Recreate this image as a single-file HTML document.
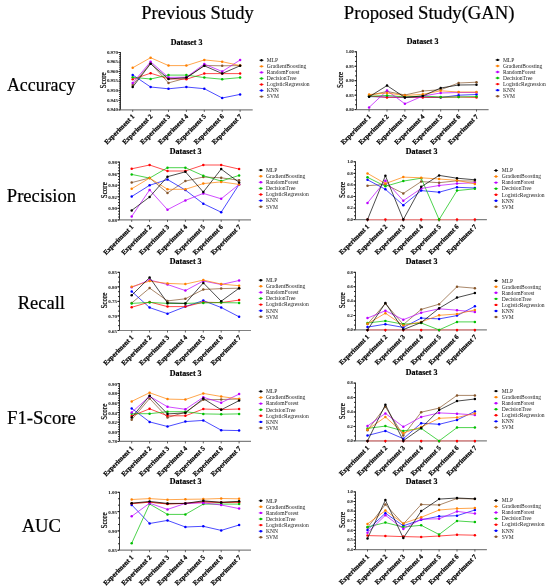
<!DOCTYPE html><html><head><meta charset="utf-8"><style>html,body{margin:0;padding:0;background:#fff;}svg{display:block;}text{font-family:'Liberation Serif',serif;}</style></head><body>
<svg width="550" height="588" viewBox="0 0 550 588">
<rect width="550" height="588" fill="#fff"/>
<text x="197.5" y="19.3" font-size="18.5" text-anchor="middle" fill="#000" stroke="#000" stroke-width="0.2">Previous Study</text>
<text x="429.2" y="19.3" font-size="18.7" text-anchor="middle" fill="#000" stroke="#000" stroke-width="0.2">Proposed Study(GAN)</text>
<text x="41.2" y="90.7" font-size="18" text-anchor="middle" textLength="68.5" lengthAdjust="spacingAndGlyphs" fill="#000" stroke="#000" stroke-width="0.2">Accuracy</text>
<text x="41.45" y="201.9" font-size="18" text-anchor="middle" textLength="69.3" lengthAdjust="spacingAndGlyphs" fill="#000" stroke="#000" stroke-width="0.2">Precision</text>
<text x="41.35" y="309.4" font-size="18" text-anchor="middle" textLength="47.3" lengthAdjust="spacingAndGlyphs" fill="#000" stroke="#000" stroke-width="0.2">Recall</text>
<text x="41.45" y="423.6" font-size="18" text-anchor="middle" textLength="69.0" lengthAdjust="spacingAndGlyphs" fill="#000" stroke="#000" stroke-width="0.2">F1-Score</text>
<text x="41.35" y="532.2" font-size="18" text-anchor="middle" textLength="39.4" lengthAdjust="spacingAndGlyphs" fill="#000" stroke="#000" stroke-width="0.2">AUC</text>
<g><text x="186.6" y="44.6" font-size="8" font-weight="bold" text-anchor="middle" fill="#000" stroke="#000" stroke-width="0.18">Dataset 3</text><text transform="translate(106.0,80.4) rotate(-90)" font-size="7.4" text-anchor="middle" textLength="16.0" lengthAdjust="spacingAndGlyphs" fill="#000" stroke="#000" stroke-width="0.2">Score</text><path d="M119.1 52.50H120.5 M119.1 54.41H120.5 M119.1 56.33H120.5 M119.1 58.24H120.5 M119.1 60.15H120.5 M119.1 62.07H120.5 M119.1 63.98H120.5 M119.1 65.89H120.5 M119.1 67.81H120.5 M119.1 69.72H120.5 M119.1 71.63H120.5 M119.1 73.55H120.5 M119.1 75.46H120.5 M119.1 77.37H120.5 M119.1 79.29H120.5 M119.1 81.20H120.5 M119.1 83.11H120.5 M119.1 85.03H120.5 M119.1 86.94H120.5 M119.1 88.85H120.5 M119.1 90.77H120.5 M119.1 92.68H120.5 M119.1 94.59H120.5 M119.1 96.51H120.5 M119.1 98.42H120.5 M119.1 100.33H120.5 M119.1 102.25H120.5 M119.1 104.16H120.5 M119.1 106.07H120.5 M119.1 107.99H120.5 M119.1 109.90H120.5" stroke="#000" stroke-width="0.9" fill="none"/><text x="117.9" y="111.10" font-size="4.9" font-weight="bold" text-anchor="end" fill="#1a1a1a" stroke="#1a1a1a" stroke-width="0.05">0.940</text><text x="117.9" y="101.53" font-size="4.9" font-weight="bold" text-anchor="end" fill="#1a1a1a" stroke="#1a1a1a" stroke-width="0.05">0.945</text><text x="117.9" y="91.97" font-size="4.9" font-weight="bold" text-anchor="end" fill="#1a1a1a" stroke="#1a1a1a" stroke-width="0.05">0.950</text><text x="117.9" y="82.40" font-size="4.9" font-weight="bold" text-anchor="end" fill="#1a1a1a" stroke="#1a1a1a" stroke-width="0.05">0.955</text><text x="117.9" y="72.83" font-size="4.9" font-weight="bold" text-anchor="end" fill="#1a1a1a" stroke="#1a1a1a" stroke-width="0.05">0.960</text><text x="117.9" y="63.27" font-size="4.9" font-weight="bold" text-anchor="end" fill="#1a1a1a" stroke="#1a1a1a" stroke-width="0.05">0.965</text><text x="117.9" y="53.70" font-size="4.9" font-weight="bold" text-anchor="end" fill="#1a1a1a" stroke="#1a1a1a" stroke-width="0.05">0.970</text><path d="M118.2 109.90H120.5 M118.2 100.33H120.5 M118.2 90.77H120.5 M118.2 81.20H120.5 M118.2 71.63H120.5 M118.2 62.07H120.5 M118.2 52.50H120.5" stroke="#111" stroke-width="0.7" fill="none"/><path d="M120.5 109.9H252.7" stroke="#808080" stroke-width="1.2" fill="none"/><path d="M120.5 52.15V109.6" stroke="#1a1a1a" stroke-width="0.85" fill="none"/><path d="M132.70 109.9v2.0 M150.60 109.9v2.0 M168.50 109.9v2.0 M186.40 109.9v2.0 M204.30 109.9v2.0 M222.20 109.9v2.0 M240.10 109.9v2.0" stroke="#222" stroke-width="0.7" fill="none"/><text transform="translate(134.90,116.90) rotate(-45)" font-size="6.8" font-weight="bold" text-anchor="end" fill="#000" stroke="#000" stroke-width="0.22">Experiment 1</text><text transform="translate(152.80,116.90) rotate(-45)" font-size="6.8" font-weight="bold" text-anchor="end" fill="#000" stroke="#000" stroke-width="0.22">Experiment 2</text><text transform="translate(170.70,116.90) rotate(-45)" font-size="6.8" font-weight="bold" text-anchor="end" fill="#000" stroke="#000" stroke-width="0.22">Experiment 3</text><text transform="translate(188.60,116.90) rotate(-45)" font-size="6.8" font-weight="bold" text-anchor="end" fill="#000" stroke="#000" stroke-width="0.22">Experiment 4</text><text transform="translate(206.50,116.90) rotate(-45)" font-size="6.8" font-weight="bold" text-anchor="end" fill="#000" stroke="#000" stroke-width="0.22">Experiment 5</text><text transform="translate(224.40,116.90) rotate(-45)" font-size="6.8" font-weight="bold" text-anchor="end" fill="#000" stroke="#000" stroke-width="0.22">Experiment 6</text><text transform="translate(242.30,116.90) rotate(-45)" font-size="6.8" font-weight="bold" text-anchor="end" fill="#000" stroke="#000" stroke-width="0.22">Experiment 7</text><polyline points="132.70,85.00 150.60,63.20 168.50,82.90 186.40,78.00 204.30,65.50 222.20,65.80 240.10,65.60" stroke="#85552a" stroke-width="0.7" fill="none"/><circle cx="132.70" cy="85.00" r="1.25" fill="#85552a"/><circle cx="150.60" cy="63.20" r="1.25" fill="#85552a"/><circle cx="168.50" cy="82.90" r="1.25" fill="#85552a"/><circle cx="186.40" cy="78.00" r="1.25" fill="#85552a"/><circle cx="204.30" cy="65.50" r="1.25" fill="#85552a"/><circle cx="222.20" cy="65.80" r="1.25" fill="#85552a"/><circle cx="240.10" cy="65.60" r="1.25" fill="#85552a"/><polyline points="132.70,74.90 150.60,87.00 168.50,88.80 186.40,87.00 204.30,88.70 222.20,98.00 240.10,94.40" stroke="#0000ff" stroke-width="0.7" fill="none"/><circle cx="132.70" cy="74.90" r="1.25" fill="#0000ff"/><circle cx="150.60" cy="87.00" r="1.25" fill="#0000ff"/><circle cx="168.50" cy="88.80" r="1.25" fill="#0000ff"/><circle cx="186.40" cy="87.00" r="1.25" fill="#0000ff"/><circle cx="204.30" cy="88.70" r="1.25" fill="#0000ff"/><circle cx="222.20" cy="98.00" r="1.25" fill="#0000ff"/><circle cx="240.10" cy="94.40" r="1.25" fill="#0000ff"/><polyline points="132.70,79.30 150.60,73.20 168.50,78.80 186.40,79.20 204.30,73.60 222.20,73.60 240.10,73.60" stroke="#ff0000" stroke-width="0.7" fill="none"/><circle cx="132.70" cy="79.30" r="1.25" fill="#ff0000"/><circle cx="150.60" cy="73.20" r="1.25" fill="#ff0000"/><circle cx="168.50" cy="78.80" r="1.25" fill="#ff0000"/><circle cx="186.40" cy="79.20" r="1.25" fill="#ff0000"/><circle cx="204.30" cy="73.60" r="1.25" fill="#ff0000"/><circle cx="222.20" cy="73.60" r="1.25" fill="#ff0000"/><circle cx="240.10" cy="73.60" r="1.25" fill="#ff0000"/><polyline points="132.70,77.30 150.60,79.00 168.50,75.10 186.40,75.10 204.30,77.60 222.20,79.20 240.10,77.60" stroke="#00c000" stroke-width="0.7" fill="none"/><circle cx="132.70" cy="77.30" r="1.25" fill="#00c000"/><circle cx="150.60" cy="79.00" r="1.25" fill="#00c000"/><circle cx="168.50" cy="75.10" r="1.25" fill="#00c000"/><circle cx="186.40" cy="75.10" r="1.25" fill="#00c000"/><circle cx="204.30" cy="77.60" r="1.25" fill="#00c000"/><circle cx="222.20" cy="79.20" r="1.25" fill="#00c000"/><circle cx="240.10" cy="77.60" r="1.25" fill="#00c000"/><polyline points="132.70,83.00 150.60,61.80 168.50,77.40 186.40,77.20 204.30,64.10 222.20,71.50 240.10,60.00" stroke="#bb00ff" stroke-width="0.7" fill="none"/><circle cx="132.70" cy="83.00" r="1.25" fill="#bb00ff"/><circle cx="150.60" cy="61.80" r="1.25" fill="#bb00ff"/><circle cx="168.50" cy="77.40" r="1.25" fill="#bb00ff"/><circle cx="186.40" cy="77.20" r="1.25" fill="#bb00ff"/><circle cx="204.30" cy="64.10" r="1.25" fill="#bb00ff"/><circle cx="222.20" cy="71.50" r="1.25" fill="#bb00ff"/><circle cx="240.10" cy="60.00" r="1.25" fill="#bb00ff"/><polyline points="132.70,67.80 150.60,57.70 168.50,65.60 186.40,65.60 204.30,59.90 222.20,61.70 240.10,65.60" stroke="#ff8000" stroke-width="0.7" fill="none"/><circle cx="132.70" cy="67.80" r="1.25" fill="#ff8000"/><circle cx="150.60" cy="57.70" r="1.25" fill="#ff8000"/><circle cx="168.50" cy="65.60" r="1.25" fill="#ff8000"/><circle cx="186.40" cy="65.60" r="1.25" fill="#ff8000"/><circle cx="204.30" cy="59.90" r="1.25" fill="#ff8000"/><circle cx="222.20" cy="61.70" r="1.25" fill="#ff8000"/><circle cx="240.10" cy="65.60" r="1.25" fill="#ff8000"/><polyline points="132.70,87.00 150.60,63.70 168.50,79.00 186.40,77.60 204.30,65.80 222.20,73.50 240.10,65.80" stroke="#000000" stroke-width="0.7" fill="none"/><circle cx="132.70" cy="87.00" r="1.25" fill="#000000"/><circle cx="150.60" cy="63.70" r="1.25" fill="#000000"/><circle cx="168.50" cy="79.00" r="1.25" fill="#000000"/><circle cx="186.40" cy="77.60" r="1.25" fill="#000000"/><circle cx="204.30" cy="65.80" r="1.25" fill="#000000"/><circle cx="222.20" cy="73.50" r="1.25" fill="#000000"/><circle cx="240.10" cy="65.80" r="1.25" fill="#000000"/><path d="M259.4 60.30h4.2" stroke="#000000" stroke-width="0.7"/><circle cx="261.5" cy="60.30" r="1.2" fill="#000000"/><text x="266.8" y="62.10" font-size="5.55" fill="#222">MLP</text><path d="M259.4 66.35h4.2" stroke="#ff8000" stroke-width="0.7"/><circle cx="261.5" cy="66.35" r="1.2" fill="#ff8000"/><text x="266.8" y="68.15" font-size="5.55" fill="#222">GradientBoosting</text><path d="M259.4 72.40h4.2" stroke="#bb00ff" stroke-width="0.7"/><circle cx="261.5" cy="72.40" r="1.2" fill="#bb00ff"/><text x="266.8" y="74.20" font-size="5.55" fill="#222">RandomForest</text><path d="M259.4 78.45h4.2" stroke="#00c000" stroke-width="0.7"/><circle cx="261.5" cy="78.45" r="1.2" fill="#00c000"/><text x="266.8" y="80.25" font-size="5.55" fill="#222">DecisionTree</text><path d="M259.4 84.50h4.2" stroke="#ff0000" stroke-width="0.7"/><circle cx="261.5" cy="84.50" r="1.2" fill="#ff0000"/><text x="266.8" y="86.30" font-size="5.55" fill="#222">LogisticRegression</text><path d="M259.4 90.55h4.2" stroke="#0000ff" stroke-width="0.7"/><circle cx="261.5" cy="90.55" r="1.2" fill="#0000ff"/><text x="266.8" y="92.35" font-size="5.55" fill="#222">KNN</text><path d="M259.4 96.60h4.2" stroke="#85552a" stroke-width="0.7"/><circle cx="261.5" cy="96.60" r="1.2" fill="#85552a"/><text x="266.8" y="98.40" font-size="5.55" fill="#222">SVM</text></g>
<g><text x="185.7" y="154.2" font-size="8" font-weight="bold" text-anchor="middle" fill="#000" stroke="#000" stroke-width="0.18">Dataset 3</text><text transform="translate(106.9,190.2) rotate(-90)" font-size="7.4" text-anchor="middle" textLength="16.0" lengthAdjust="spacingAndGlyphs" fill="#000" stroke="#000" stroke-width="0.2">Score</text><path d="M118.1 162.10H119.5 M118.1 164.99H119.5 M118.1 167.88H119.5 M118.1 170.77H119.5 M118.1 173.66H119.5 M118.1 176.55H119.5 M118.1 179.44H119.5 M118.1 182.33H119.5 M118.1 185.22H119.5 M118.1 188.11H119.5 M118.1 191.00H119.5 M118.1 193.89H119.5 M118.1 196.78H119.5 M118.1 199.67H119.5 M118.1 202.56H119.5 M118.1 205.45H119.5 M118.1 208.34H119.5 M118.1 211.23H119.5 M118.1 214.12H119.5 M118.1 217.01H119.5 M118.1 219.90H119.5" stroke="#000" stroke-width="0.9" fill="none"/><text x="116.9" y="221.90" font-size="4.9" font-weight="bold" text-anchor="end" fill="#1a1a1a" stroke="#1a1a1a" stroke-width="0.05">0.88</text><text x="116.9" y="210.34" font-size="4.9" font-weight="bold" text-anchor="end" fill="#1a1a1a" stroke="#1a1a1a" stroke-width="0.05">0.90</text><text x="116.9" y="198.78" font-size="4.9" font-weight="bold" text-anchor="end" fill="#1a1a1a" stroke="#1a1a1a" stroke-width="0.05">0.92</text><text x="116.9" y="187.22" font-size="4.9" font-weight="bold" text-anchor="end" fill="#1a1a1a" stroke="#1a1a1a" stroke-width="0.05">0.94</text><text x="116.9" y="175.66" font-size="4.9" font-weight="bold" text-anchor="end" fill="#1a1a1a" stroke="#1a1a1a" stroke-width="0.05">0.96</text><text x="116.9" y="164.10" font-size="4.9" font-weight="bold" text-anchor="end" fill="#1a1a1a" stroke="#1a1a1a" stroke-width="0.05">0.98</text><path d="M117.2 219.90H119.5 M117.2 208.34H119.5 M117.2 196.78H119.5 M117.2 185.22H119.5 M117.2 173.66H119.5 M117.2 162.10H119.5" stroke="#111" stroke-width="0.7" fill="none"/><path d="M119.5 219.9H251.0" stroke="#808080" stroke-width="1.2" fill="none"/><path d="M119.5 161.75V219.6" stroke="#1a1a1a" stroke-width="0.85" fill="none"/><path d="M131.70 219.9v2.0 M149.60 219.9v2.0 M167.50 219.9v2.0 M185.40 219.9v2.0 M203.30 219.9v2.0 M221.20 219.9v2.0 M239.10 219.9v2.0" stroke="#222" stroke-width="0.7" fill="none"/><text transform="translate(133.90,227.30) rotate(-45)" font-size="6.8" font-weight="bold" text-anchor="end" fill="#000" stroke="#000" stroke-width="0.22">Experiment 1</text><text transform="translate(151.80,227.30) rotate(-45)" font-size="6.8" font-weight="bold" text-anchor="end" fill="#000" stroke="#000" stroke-width="0.22">Experiment 2</text><text transform="translate(169.70,227.30) rotate(-45)" font-size="6.8" font-weight="bold" text-anchor="end" fill="#000" stroke="#000" stroke-width="0.22">Experiment 3</text><text transform="translate(187.60,227.30) rotate(-45)" font-size="6.8" font-weight="bold" text-anchor="end" fill="#000" stroke="#000" stroke-width="0.22">Experiment 4</text><text transform="translate(205.50,227.30) rotate(-45)" font-size="6.8" font-weight="bold" text-anchor="end" fill="#000" stroke="#000" stroke-width="0.22">Experiment 5</text><text transform="translate(223.40,227.30) rotate(-45)" font-size="6.8" font-weight="bold" text-anchor="end" fill="#000" stroke="#000" stroke-width="0.22">Experiment 6</text><text transform="translate(241.30,227.30) rotate(-45)" font-size="6.8" font-weight="bold" text-anchor="end" fill="#000" stroke="#000" stroke-width="0.22">Experiment 7</text><polyline points="131.70,182.60 149.60,178.00 167.50,192.90 185.40,181.10 203.30,177.00 221.20,177.80 239.10,180.30" stroke="#85552a" stroke-width="0.7" fill="none"/><circle cx="131.70" cy="182.60" r="1.25" fill="#85552a"/><circle cx="149.60" cy="178.00" r="1.25" fill="#85552a"/><circle cx="167.50" cy="192.90" r="1.25" fill="#85552a"/><circle cx="185.40" cy="181.10" r="1.25" fill="#85552a"/><circle cx="203.30" cy="177.00" r="1.25" fill="#85552a"/><circle cx="221.20" cy="177.80" r="1.25" fill="#85552a"/><circle cx="239.10" cy="180.30" r="1.25" fill="#85552a"/><polyline points="131.70,196.50 149.60,185.30 167.50,179.50 185.40,190.10 203.30,203.70 221.20,212.20 239.10,184.40" stroke="#0000ff" stroke-width="0.7" fill="none"/><circle cx="131.70" cy="196.50" r="1.25" fill="#0000ff"/><circle cx="149.60" cy="185.30" r="1.25" fill="#0000ff"/><circle cx="167.50" cy="179.50" r="1.25" fill="#0000ff"/><circle cx="185.40" cy="190.10" r="1.25" fill="#0000ff"/><circle cx="203.30" cy="203.70" r="1.25" fill="#0000ff"/><circle cx="221.20" cy="212.20" r="1.25" fill="#0000ff"/><circle cx="239.10" cy="184.40" r="1.25" fill="#0000ff"/><polyline points="131.70,168.80 149.60,165.00 167.50,171.00 185.40,171.00 203.30,165.00 221.20,165.00 239.10,169.10" stroke="#ff0000" stroke-width="0.7" fill="none"/><circle cx="131.70" cy="168.80" r="1.25" fill="#ff0000"/><circle cx="149.60" cy="165.00" r="1.25" fill="#ff0000"/><circle cx="167.50" cy="171.00" r="1.25" fill="#ff0000"/><circle cx="185.40" cy="171.00" r="1.25" fill="#ff0000"/><circle cx="203.30" cy="165.00" r="1.25" fill="#ff0000"/><circle cx="221.20" cy="165.00" r="1.25" fill="#ff0000"/><circle cx="239.10" cy="169.10" r="1.25" fill="#ff0000"/><polyline points="131.70,174.40 149.60,178.10 167.50,167.70 185.40,167.70 203.30,175.70 221.20,181.10 239.10,175.40" stroke="#00c000" stroke-width="0.7" fill="none"/><circle cx="131.70" cy="174.40" r="1.25" fill="#00c000"/><circle cx="149.60" cy="178.10" r="1.25" fill="#00c000"/><circle cx="167.50" cy="167.70" r="1.25" fill="#00c000"/><circle cx="185.40" cy="167.70" r="1.25" fill="#00c000"/><circle cx="203.30" cy="175.70" r="1.25" fill="#00c000"/><circle cx="221.20" cy="181.10" r="1.25" fill="#00c000"/><circle cx="239.10" cy="175.40" r="1.25" fill="#00c000"/><polyline points="131.70,216.40 149.60,189.90 167.50,209.70 185.40,200.40 203.30,193.40 221.20,198.80 239.10,184.40" stroke="#bb00ff" stroke-width="0.7" fill="none"/><circle cx="131.70" cy="216.40" r="1.25" fill="#bb00ff"/><circle cx="149.60" cy="189.90" r="1.25" fill="#bb00ff"/><circle cx="167.50" cy="209.70" r="1.25" fill="#bb00ff"/><circle cx="185.40" cy="200.40" r="1.25" fill="#bb00ff"/><circle cx="203.30" cy="193.40" r="1.25" fill="#bb00ff"/><circle cx="221.20" cy="198.80" r="1.25" fill="#bb00ff"/><circle cx="239.10" cy="184.40" r="1.25" fill="#bb00ff"/><polyline points="131.70,188.80 149.60,178.00 167.50,189.30 185.40,189.30 203.30,183.60 221.20,181.90 239.10,184.40" stroke="#ff8000" stroke-width="0.7" fill="none"/><circle cx="131.70" cy="188.80" r="1.25" fill="#ff8000"/><circle cx="149.60" cy="178.00" r="1.25" fill="#ff8000"/><circle cx="167.50" cy="189.30" r="1.25" fill="#ff8000"/><circle cx="185.40" cy="189.30" r="1.25" fill="#ff8000"/><circle cx="203.30" cy="183.60" r="1.25" fill="#ff8000"/><circle cx="221.20" cy="181.90" r="1.25" fill="#ff8000"/><circle cx="239.10" cy="184.40" r="1.25" fill="#ff8000"/><polyline points="131.70,210.40 149.60,197.00 167.50,176.70 185.40,171.80 203.30,192.00 221.20,169.10 239.10,182.40" stroke="#000000" stroke-width="0.7" fill="none"/><circle cx="131.70" cy="210.40" r="1.25" fill="#000000"/><circle cx="149.60" cy="197.00" r="1.25" fill="#000000"/><circle cx="167.50" cy="176.70" r="1.25" fill="#000000"/><circle cx="185.40" cy="171.80" r="1.25" fill="#000000"/><circle cx="203.30" cy="192.00" r="1.25" fill="#000000"/><circle cx="221.20" cy="169.10" r="1.25" fill="#000000"/><circle cx="239.10" cy="182.40" r="1.25" fill="#000000"/><path d="M258.7 170.10h4.2" stroke="#000000" stroke-width="0.7"/><circle cx="260.8" cy="170.10" r="1.2" fill="#000000"/><text x="265.9" y="171.90" font-size="5.55" fill="#222">MLP</text><path d="M258.7 176.20h4.2" stroke="#ff8000" stroke-width="0.7"/><circle cx="260.8" cy="176.20" r="1.2" fill="#ff8000"/><text x="265.9" y="178.00" font-size="5.55" fill="#222">GradientBoosting</text><path d="M258.7 182.30h4.2" stroke="#bb00ff" stroke-width="0.7"/><circle cx="260.8" cy="182.30" r="1.2" fill="#bb00ff"/><text x="265.9" y="184.10" font-size="5.55" fill="#222">RandomForest</text><path d="M258.7 188.40h4.2" stroke="#00c000" stroke-width="0.7"/><circle cx="260.8" cy="188.40" r="1.2" fill="#00c000"/><text x="265.9" y="190.20" font-size="5.55" fill="#222">DecisionTree</text><path d="M258.7 194.50h4.2" stroke="#ff0000" stroke-width="0.7"/><circle cx="260.8" cy="194.50" r="1.2" fill="#ff0000"/><text x="265.9" y="196.30" font-size="5.55" fill="#222">LogisticRegression</text><path d="M258.7 200.60h4.2" stroke="#0000ff" stroke-width="0.7"/><circle cx="260.8" cy="200.60" r="1.2" fill="#0000ff"/><text x="265.9" y="202.40" font-size="5.55" fill="#222">KNN</text><path d="M258.7 206.70h4.2" stroke="#85552a" stroke-width="0.7"/><circle cx="260.8" cy="206.70" r="1.2" fill="#85552a"/><text x="265.9" y="208.50" font-size="5.55" fill="#222">SVM</text></g>
<g><text x="185.7" y="264.4" font-size="8" font-weight="bold" text-anchor="middle" fill="#000" stroke="#000" stroke-width="0.18">Dataset 3</text><text transform="translate(106.9,300.6) rotate(-90)" font-size="7.4" text-anchor="middle" textLength="16.0" lengthAdjust="spacingAndGlyphs" fill="#000" stroke="#000" stroke-width="0.2">Score</text><path d="M118.1 272.30H119.5 M118.1 277.15H119.5 M118.1 282.00H119.5 M118.1 286.85H119.5 M118.1 291.70H119.5 M118.1 296.55H119.5 M118.1 301.40H119.5 M118.1 306.25H119.5 M118.1 311.10H119.5 M118.1 315.95H119.5 M118.1 320.80H119.5 M118.1 325.65H119.5 M118.1 330.50H119.5" stroke="#000" stroke-width="0.9" fill="none"/><text x="116.9" y="332.50" font-size="4.9" font-weight="bold" text-anchor="end" fill="#1a1a1a" stroke="#1a1a1a" stroke-width="0.05">0.65</text><text x="116.9" y="317.95" font-size="4.9" font-weight="bold" text-anchor="end" fill="#1a1a1a" stroke="#1a1a1a" stroke-width="0.05">0.70</text><text x="116.9" y="303.40" font-size="4.9" font-weight="bold" text-anchor="end" fill="#1a1a1a" stroke="#1a1a1a" stroke-width="0.05">0.75</text><text x="116.9" y="288.85" font-size="4.9" font-weight="bold" text-anchor="end" fill="#1a1a1a" stroke="#1a1a1a" stroke-width="0.05">0.80</text><text x="116.9" y="274.30" font-size="4.9" font-weight="bold" text-anchor="end" fill="#1a1a1a" stroke="#1a1a1a" stroke-width="0.05">0.85</text><path d="M117.2 330.50H119.5 M117.2 315.95H119.5 M117.2 301.40H119.5 M117.2 286.85H119.5 M117.2 272.30H119.5" stroke="#111" stroke-width="0.7" fill="none"/><path d="M119.5 330.5H251.0" stroke="#808080" stroke-width="1.2" fill="none"/><path d="M119.5 271.95V330.2" stroke="#1a1a1a" stroke-width="0.85" fill="none"/><path d="M131.70 330.5v2.0 M149.60 330.5v2.0 M167.50 330.5v2.0 M185.40 330.5v2.0 M203.30 330.5v2.0 M221.20 330.5v2.0 M239.10 330.5v2.0" stroke="#222" stroke-width="0.7" fill="none"/><text transform="translate(133.90,337.90) rotate(-45)" font-size="6.8" font-weight="bold" text-anchor="end" fill="#000" stroke="#000" stroke-width="0.22">Experiment 1</text><text transform="translate(151.80,337.90) rotate(-45)" font-size="6.8" font-weight="bold" text-anchor="end" fill="#000" stroke="#000" stroke-width="0.22">Experiment 2</text><text transform="translate(169.70,337.90) rotate(-45)" font-size="6.8" font-weight="bold" text-anchor="end" fill="#000" stroke="#000" stroke-width="0.22">Experiment 3</text><text transform="translate(187.60,337.90) rotate(-45)" font-size="6.8" font-weight="bold" text-anchor="end" fill="#000" stroke="#000" stroke-width="0.22">Experiment 4</text><text transform="translate(205.50,337.90) rotate(-45)" font-size="6.8" font-weight="bold" text-anchor="end" fill="#000" stroke="#000" stroke-width="0.22">Experiment 5</text><text transform="translate(223.40,337.90) rotate(-45)" font-size="6.8" font-weight="bold" text-anchor="end" fill="#000" stroke="#000" stroke-width="0.22">Experiment 6</text><text transform="translate(241.30,337.90) rotate(-45)" font-size="6.8" font-weight="bold" text-anchor="end" fill="#000" stroke="#000" stroke-width="0.22">Experiment 7</text><polyline points="131.70,303.00 149.60,288.10 167.50,300.90 185.40,298.80 203.30,289.50 221.20,288.60 239.10,288.20" stroke="#85552a" stroke-width="0.7" fill="none"/><circle cx="131.70" cy="303.00" r="1.25" fill="#85552a"/><circle cx="149.60" cy="288.10" r="1.25" fill="#85552a"/><circle cx="167.50" cy="300.90" r="1.25" fill="#85552a"/><circle cx="185.40" cy="298.80" r="1.25" fill="#85552a"/><circle cx="203.30" cy="289.50" r="1.25" fill="#85552a"/><circle cx="221.20" cy="288.60" r="1.25" fill="#85552a"/><circle cx="239.10" cy="288.20" r="1.25" fill="#85552a"/><polyline points="131.70,291.40 149.60,307.60 167.50,313.70 185.40,306.60 203.30,300.60 221.20,307.50 239.10,316.80" stroke="#0000ff" stroke-width="0.7" fill="none"/><circle cx="131.70" cy="291.40" r="1.25" fill="#0000ff"/><circle cx="149.60" cy="307.60" r="1.25" fill="#0000ff"/><circle cx="167.50" cy="313.70" r="1.25" fill="#0000ff"/><circle cx="185.40" cy="306.60" r="1.25" fill="#0000ff"/><circle cx="203.30" cy="300.60" r="1.25" fill="#0000ff"/><circle cx="221.20" cy="307.50" r="1.25" fill="#0000ff"/><circle cx="239.10" cy="316.80" r="1.25" fill="#0000ff"/><polyline points="131.70,307.30 149.60,302.00 167.50,306.60 185.40,306.60 203.30,302.20 221.20,302.60 239.10,300.10" stroke="#ff0000" stroke-width="0.7" fill="none"/><circle cx="131.70" cy="307.30" r="1.25" fill="#ff0000"/><circle cx="149.60" cy="302.00" r="1.25" fill="#ff0000"/><circle cx="167.50" cy="306.60" r="1.25" fill="#ff0000"/><circle cx="185.40" cy="306.60" r="1.25" fill="#ff0000"/><circle cx="203.30" cy="302.20" r="1.25" fill="#ff0000"/><circle cx="221.20" cy="302.60" r="1.25" fill="#ff0000"/><circle cx="239.10" cy="300.10" r="1.25" fill="#ff0000"/><polyline points="131.70,303.40 149.60,302.40 167.50,303.40 185.40,303.40 203.30,302.90 221.20,302.60 239.10,302.90" stroke="#00c000" stroke-width="0.7" fill="none"/><circle cx="131.70" cy="303.40" r="1.25" fill="#00c000"/><circle cx="149.60" cy="302.40" r="1.25" fill="#00c000"/><circle cx="167.50" cy="303.40" r="1.25" fill="#00c000"/><circle cx="185.40" cy="303.40" r="1.25" fill="#00c000"/><circle cx="203.30" cy="302.90" r="1.25" fill="#00c000"/><circle cx="221.20" cy="302.60" r="1.25" fill="#00c000"/><circle cx="239.10" cy="302.90" r="1.25" fill="#00c000"/><polyline points="131.70,287.30 149.60,280.00 167.50,284.50 185.40,290.60 203.30,281.00 221.20,284.50 239.10,280.50" stroke="#bb00ff" stroke-width="0.7" fill="none"/><circle cx="131.70" cy="287.30" r="1.25" fill="#bb00ff"/><circle cx="149.60" cy="280.00" r="1.25" fill="#bb00ff"/><circle cx="167.50" cy="284.50" r="1.25" fill="#bb00ff"/><circle cx="185.40" cy="290.60" r="1.25" fill="#bb00ff"/><circle cx="203.30" cy="281.00" r="1.25" fill="#bb00ff"/><circle cx="221.20" cy="284.50" r="1.25" fill="#bb00ff"/><circle cx="239.10" cy="280.50" r="1.25" fill="#bb00ff"/><polyline points="131.70,286.80 149.60,281.10 167.50,283.40 185.40,284.10 203.30,280.10 221.20,284.10 239.10,285.70" stroke="#ff8000" stroke-width="0.7" fill="none"/><circle cx="131.70" cy="286.80" r="1.25" fill="#ff8000"/><circle cx="149.60" cy="281.10" r="1.25" fill="#ff8000"/><circle cx="167.50" cy="283.40" r="1.25" fill="#ff8000"/><circle cx="185.40" cy="284.10" r="1.25" fill="#ff8000"/><circle cx="203.30" cy="280.10" r="1.25" fill="#ff8000"/><circle cx="221.20" cy="284.10" r="1.25" fill="#ff8000"/><circle cx="239.10" cy="285.70" r="1.25" fill="#ff8000"/><polyline points="131.70,295.30 149.60,277.50 167.50,302.90 185.40,303.40 203.30,282.90 221.20,301.20 239.10,288.20" stroke="#000000" stroke-width="0.7" fill="none"/><circle cx="131.70" cy="295.30" r="1.25" fill="#000000"/><circle cx="149.60" cy="277.50" r="1.25" fill="#000000"/><circle cx="167.50" cy="302.90" r="1.25" fill="#000000"/><circle cx="185.40" cy="303.40" r="1.25" fill="#000000"/><circle cx="203.30" cy="282.90" r="1.25" fill="#000000"/><circle cx="221.20" cy="301.20" r="1.25" fill="#000000"/><circle cx="239.10" cy="288.20" r="1.25" fill="#000000"/><path d="M258.7 280.20h4.2" stroke="#000000" stroke-width="0.7"/><circle cx="260.8" cy="280.20" r="1.2" fill="#000000"/><text x="265.9" y="282.00" font-size="5.55" fill="#222">MLP</text><path d="M258.7 286.30h4.2" stroke="#ff8000" stroke-width="0.7"/><circle cx="260.8" cy="286.30" r="1.2" fill="#ff8000"/><text x="265.9" y="288.10" font-size="5.55" fill="#222">GradientBoosting</text><path d="M258.7 292.40h4.2" stroke="#bb00ff" stroke-width="0.7"/><circle cx="260.8" cy="292.40" r="1.2" fill="#bb00ff"/><text x="265.9" y="294.20" font-size="5.55" fill="#222">RandomForest</text><path d="M258.7 298.50h4.2" stroke="#00c000" stroke-width="0.7"/><circle cx="260.8" cy="298.50" r="1.2" fill="#00c000"/><text x="265.9" y="300.30" font-size="5.55" fill="#222">DecisionTree</text><path d="M258.7 304.60h4.2" stroke="#ff0000" stroke-width="0.7"/><circle cx="260.8" cy="304.60" r="1.2" fill="#ff0000"/><text x="265.9" y="306.40" font-size="5.55" fill="#222">LogisticRegression</text><path d="M258.7 310.70h4.2" stroke="#0000ff" stroke-width="0.7"/><circle cx="260.8" cy="310.70" r="1.2" fill="#0000ff"/><text x="265.9" y="312.50" font-size="5.55" fill="#222">KNN</text><path d="M258.7 316.80h4.2" stroke="#85552a" stroke-width="0.7"/><circle cx="260.8" cy="316.80" r="1.2" fill="#85552a"/><text x="265.9" y="318.60" font-size="5.55" fill="#222">SVM</text></g>
<g><text x="185.7" y="375.8" font-size="8" font-weight="bold" text-anchor="middle" fill="#000" stroke="#000" stroke-width="0.18">Dataset 3</text><text transform="translate(106.9,411.7) rotate(-90)" font-size="7.4" text-anchor="middle" textLength="16.0" lengthAdjust="spacingAndGlyphs" fill="#000" stroke="#000" stroke-width="0.2">Score</text><path d="M118.1 383.70H119.5 M118.1 386.10H119.5 M118.1 388.51H119.5 M118.1 390.91H119.5 M118.1 393.32H119.5 M118.1 395.72H119.5 M118.1 398.12H119.5 M118.1 400.53H119.5 M118.1 402.93H119.5 M118.1 405.34H119.5 M118.1 407.74H119.5 M118.1 410.15H119.5 M118.1 412.55H119.5 M118.1 414.95H119.5 M118.1 417.36H119.5 M118.1 419.76H119.5 M118.1 422.17H119.5 M118.1 424.57H119.5 M118.1 426.97H119.5 M118.1 429.38H119.5 M118.1 431.78H119.5 M118.1 434.19H119.5 M118.1 436.59H119.5 M118.1 439.00H119.5 M118.1 441.40H119.5" stroke="#000" stroke-width="0.9" fill="none"/><text x="116.9" y="443.40" font-size="4.9" font-weight="bold" text-anchor="end" fill="#1a1a1a" stroke="#1a1a1a" stroke-width="0.05">0.78</text><text x="116.9" y="433.78" font-size="4.9" font-weight="bold" text-anchor="end" fill="#1a1a1a" stroke="#1a1a1a" stroke-width="0.05">0.80</text><text x="116.9" y="424.17" font-size="4.9" font-weight="bold" text-anchor="end" fill="#1a1a1a" stroke="#1a1a1a" stroke-width="0.05">0.82</text><text x="116.9" y="414.55" font-size="4.9" font-weight="bold" text-anchor="end" fill="#1a1a1a" stroke="#1a1a1a" stroke-width="0.05">0.84</text><text x="116.9" y="404.93" font-size="4.9" font-weight="bold" text-anchor="end" fill="#1a1a1a" stroke="#1a1a1a" stroke-width="0.05">0.86</text><text x="116.9" y="395.32" font-size="4.9" font-weight="bold" text-anchor="end" fill="#1a1a1a" stroke="#1a1a1a" stroke-width="0.05">0.88</text><text x="116.9" y="385.70" font-size="4.9" font-weight="bold" text-anchor="end" fill="#1a1a1a" stroke="#1a1a1a" stroke-width="0.05">0.90</text><path d="M117.2 441.40H119.5 M117.2 431.78H119.5 M117.2 422.17H119.5 M117.2 412.55H119.5 M117.2 402.93H119.5 M117.2 393.32H119.5 M117.2 383.70H119.5" stroke="#111" stroke-width="0.7" fill="none"/><path d="M119.5 441.4H251.0" stroke="#808080" stroke-width="1.2" fill="none"/><path d="M119.5 383.35V441.1" stroke="#1a1a1a" stroke-width="0.85" fill="none"/><path d="M131.70 441.4v2.0 M149.60 441.4v2.0 M167.50 441.4v2.0 M185.40 441.4v2.0 M203.30 441.4v2.0 M221.20 441.4v2.0 M239.10 441.4v2.0" stroke="#222" stroke-width="0.7" fill="none"/><text transform="translate(133.90,448.80) rotate(-45)" font-size="6.8" font-weight="bold" text-anchor="end" fill="#000" stroke="#000" stroke-width="0.22">Experiment 1</text><text transform="translate(151.80,448.80) rotate(-45)" font-size="6.8" font-weight="bold" text-anchor="end" fill="#000" stroke="#000" stroke-width="0.22">Experiment 2</text><text transform="translate(169.70,448.80) rotate(-45)" font-size="6.8" font-weight="bold" text-anchor="end" fill="#000" stroke="#000" stroke-width="0.22">Experiment 3</text><text transform="translate(187.60,448.80) rotate(-45)" font-size="6.8" font-weight="bold" text-anchor="end" fill="#000" stroke="#000" stroke-width="0.22">Experiment 4</text><text transform="translate(205.50,448.80) rotate(-45)" font-size="6.8" font-weight="bold" text-anchor="end" fill="#000" stroke="#000" stroke-width="0.22">Experiment 5</text><text transform="translate(223.40,448.80) rotate(-45)" font-size="6.8" font-weight="bold" text-anchor="end" fill="#000" stroke="#000" stroke-width="0.22">Experiment 6</text><text transform="translate(241.30,448.80) rotate(-45)" font-size="6.8" font-weight="bold" text-anchor="end" fill="#000" stroke="#000" stroke-width="0.22">Experiment 7</text><polyline points="131.70,419.70 149.60,398.50 167.50,417.50 185.40,412.20 203.30,399.80 221.20,399.50 239.10,399.00" stroke="#85552a" stroke-width="0.7" fill="none"/><circle cx="131.70" cy="419.70" r="1.25" fill="#85552a"/><circle cx="149.60" cy="398.50" r="1.25" fill="#85552a"/><circle cx="167.50" cy="417.50" r="1.25" fill="#85552a"/><circle cx="185.40" cy="412.20" r="1.25" fill="#85552a"/><circle cx="203.30" cy="399.80" r="1.25" fill="#85552a"/><circle cx="221.20" cy="399.50" r="1.25" fill="#85552a"/><circle cx="239.10" cy="399.00" r="1.25" fill="#85552a"/><polyline points="131.70,408.40 149.60,421.90 167.50,426.50 185.40,421.60 203.30,420.40 221.20,430.20 239.10,430.60" stroke="#0000ff" stroke-width="0.7" fill="none"/><circle cx="131.70" cy="408.40" r="1.25" fill="#0000ff"/><circle cx="149.60" cy="421.90" r="1.25" fill="#0000ff"/><circle cx="167.50" cy="426.50" r="1.25" fill="#0000ff"/><circle cx="185.40" cy="421.60" r="1.25" fill="#0000ff"/><circle cx="203.30" cy="420.40" r="1.25" fill="#0000ff"/><circle cx="221.20" cy="430.20" r="1.25" fill="#0000ff"/><circle cx="239.10" cy="430.60" r="1.25" fill="#0000ff"/><polyline points="131.70,416.00 149.60,408.80 167.50,415.80 185.40,415.80 203.30,409.00 221.20,409.60 239.10,409.00" stroke="#ff0000" stroke-width="0.7" fill="none"/><circle cx="131.70" cy="416.00" r="1.25" fill="#ff0000"/><circle cx="149.60" cy="408.80" r="1.25" fill="#ff0000"/><circle cx="167.50" cy="415.80" r="1.25" fill="#ff0000"/><circle cx="185.40" cy="415.80" r="1.25" fill="#ff0000"/><circle cx="203.30" cy="409.00" r="1.25" fill="#ff0000"/><circle cx="221.20" cy="409.60" r="1.25" fill="#ff0000"/><circle cx="239.10" cy="409.00" r="1.25" fill="#ff0000"/><polyline points="131.70,413.70 149.60,413.70 167.50,411.70 185.40,411.70 203.30,413.90 221.20,414.20 239.10,413.90" stroke="#00c000" stroke-width="0.7" fill="none"/><circle cx="131.70" cy="413.70" r="1.25" fill="#00c000"/><circle cx="149.60" cy="413.70" r="1.25" fill="#00c000"/><circle cx="167.50" cy="411.70" r="1.25" fill="#00c000"/><circle cx="185.40" cy="411.70" r="1.25" fill="#00c000"/><circle cx="203.30" cy="413.90" r="1.25" fill="#00c000"/><circle cx="221.20" cy="414.20" r="1.25" fill="#00c000"/><circle cx="239.10" cy="413.90" r="1.25" fill="#00c000"/><polyline points="131.70,412.40 149.60,396.30 167.50,406.80 185.40,409.30 203.30,397.30 221.20,402.70 239.10,394.10" stroke="#bb00ff" stroke-width="0.7" fill="none"/><circle cx="131.70" cy="412.40" r="1.25" fill="#bb00ff"/><circle cx="149.60" cy="396.30" r="1.25" fill="#bb00ff"/><circle cx="167.50" cy="406.80" r="1.25" fill="#bb00ff"/><circle cx="185.40" cy="409.30" r="1.25" fill="#bb00ff"/><circle cx="203.30" cy="397.30" r="1.25" fill="#bb00ff"/><circle cx="221.20" cy="402.70" r="1.25" fill="#bb00ff"/><circle cx="239.10" cy="394.10" r="1.25" fill="#bb00ff"/><polyline points="131.70,401.40 149.60,392.70 167.50,399.10 185.40,399.50 203.30,393.40 221.20,396.50 239.10,399.00" stroke="#ff8000" stroke-width="0.7" fill="none"/><circle cx="131.70" cy="401.40" r="1.25" fill="#ff8000"/><circle cx="149.60" cy="392.70" r="1.25" fill="#ff8000"/><circle cx="167.50" cy="399.10" r="1.25" fill="#ff8000"/><circle cx="185.40" cy="399.50" r="1.25" fill="#ff8000"/><circle cx="203.30" cy="393.40" r="1.25" fill="#ff8000"/><circle cx="221.20" cy="396.50" r="1.25" fill="#ff8000"/><circle cx="239.10" cy="399.00" r="1.25" fill="#ff8000"/><polyline points="131.70,417.60 149.60,395.70 167.50,413.90 185.40,412.90 203.30,398.60 221.20,409.80 239.10,400.60" stroke="#000000" stroke-width="0.7" fill="none"/><circle cx="131.70" cy="417.60" r="1.25" fill="#000000"/><circle cx="149.60" cy="395.70" r="1.25" fill="#000000"/><circle cx="167.50" cy="413.90" r="1.25" fill="#000000"/><circle cx="185.40" cy="412.90" r="1.25" fill="#000000"/><circle cx="203.30" cy="398.60" r="1.25" fill="#000000"/><circle cx="221.20" cy="409.80" r="1.25" fill="#000000"/><circle cx="239.10" cy="400.60" r="1.25" fill="#000000"/><path d="M258.7 391.40h4.2" stroke="#000000" stroke-width="0.7"/><circle cx="260.8" cy="391.40" r="1.2" fill="#000000"/><text x="265.9" y="393.20" font-size="5.55" fill="#222">MLP</text><path d="M258.7 397.50h4.2" stroke="#ff8000" stroke-width="0.7"/><circle cx="260.8" cy="397.50" r="1.2" fill="#ff8000"/><text x="265.9" y="399.30" font-size="5.55" fill="#222">GradientBoosting</text><path d="M258.7 403.60h4.2" stroke="#bb00ff" stroke-width="0.7"/><circle cx="260.8" cy="403.60" r="1.2" fill="#bb00ff"/><text x="265.9" y="405.40" font-size="5.55" fill="#222">RandomForest</text><path d="M258.7 409.70h4.2" stroke="#00c000" stroke-width="0.7"/><circle cx="260.8" cy="409.70" r="1.2" fill="#00c000"/><text x="265.9" y="411.50" font-size="5.55" fill="#222">DecisionTree</text><path d="M258.7 415.80h4.2" stroke="#ff0000" stroke-width="0.7"/><circle cx="260.8" cy="415.80" r="1.2" fill="#ff0000"/><text x="265.9" y="417.60" font-size="5.55" fill="#222">LogisticRegression</text><path d="M258.7 421.90h4.2" stroke="#0000ff" stroke-width="0.7"/><circle cx="260.8" cy="421.90" r="1.2" fill="#0000ff"/><text x="265.9" y="423.70" font-size="5.55" fill="#222">KNN</text><path d="M258.7 428.00h4.2" stroke="#85552a" stroke-width="0.7"/><circle cx="260.8" cy="428.00" r="1.2" fill="#85552a"/><text x="265.9" y="429.80" font-size="5.55" fill="#222">SVM</text></g>
<g><text x="185.7" y="484.4" font-size="8" font-weight="bold" text-anchor="middle" fill="#000" stroke="#000" stroke-width="0.18">Dataset 3</text><text transform="translate(106.9,520.5) rotate(-90)" font-size="7.4" text-anchor="middle" textLength="16.0" lengthAdjust="spacingAndGlyphs" fill="#000" stroke="#000" stroke-width="0.2">Score</text><path d="M118.1 492.30H119.5 M118.1 498.73H119.5 M118.1 505.17H119.5 M118.1 511.60H119.5 M118.1 518.03H119.5 M118.1 524.47H119.5 M118.1 530.90H119.5 M118.1 537.33H119.5 M118.1 543.77H119.5 M118.1 550.20H119.5" stroke="#000" stroke-width="0.9" fill="none"/><text x="116.9" y="552.20" font-size="4.9" font-weight="bold" text-anchor="end" fill="#1a1a1a" stroke="#1a1a1a" stroke-width="0.05">0.85</text><text x="116.9" y="532.90" font-size="4.9" font-weight="bold" text-anchor="end" fill="#1a1a1a" stroke="#1a1a1a" stroke-width="0.05">0.90</text><text x="116.9" y="513.60" font-size="4.9" font-weight="bold" text-anchor="end" fill="#1a1a1a" stroke="#1a1a1a" stroke-width="0.05">0.95</text><text x="116.9" y="494.30" font-size="4.9" font-weight="bold" text-anchor="end" fill="#1a1a1a" stroke="#1a1a1a" stroke-width="0.05">1.00</text><path d="M117.2 550.20H119.5 M117.2 530.90H119.5 M117.2 511.60H119.5 M117.2 492.30H119.5" stroke="#111" stroke-width="0.7" fill="none"/><path d="M119.5 550.2H251.0" stroke="#808080" stroke-width="1.2" fill="none"/><path d="M119.5 491.95V549.9" stroke="#1a1a1a" stroke-width="0.85" fill="none"/><path d="M131.70 550.2v2.0 M149.60 550.2v2.0 M167.50 550.2v2.0 M185.40 550.2v2.0 M203.30 550.2v2.0 M221.20 550.2v2.0 M239.10 550.2v2.0" stroke="#222" stroke-width="0.7" fill="none"/><text transform="translate(133.90,557.90) rotate(-45)" font-size="6.8" font-weight="bold" text-anchor="end" fill="#000" stroke="#000" stroke-width="0.22">Experiment 1</text><text transform="translate(151.80,557.90) rotate(-45)" font-size="6.8" font-weight="bold" text-anchor="end" fill="#000" stroke="#000" stroke-width="0.22">Experiment 2</text><text transform="translate(169.70,557.90) rotate(-45)" font-size="6.8" font-weight="bold" text-anchor="end" fill="#000" stroke="#000" stroke-width="0.22">Experiment 3</text><text transform="translate(187.60,557.90) rotate(-45)" font-size="6.8" font-weight="bold" text-anchor="end" fill="#000" stroke="#000" stroke-width="0.22">Experiment 4</text><text transform="translate(205.50,557.90) rotate(-45)" font-size="6.8" font-weight="bold" text-anchor="end" fill="#000" stroke="#000" stroke-width="0.22">Experiment 5</text><text transform="translate(223.40,557.90) rotate(-45)" font-size="6.8" font-weight="bold" text-anchor="end" fill="#000" stroke="#000" stroke-width="0.22">Experiment 6</text><text transform="translate(241.30,557.90) rotate(-45)" font-size="6.8" font-weight="bold" text-anchor="end" fill="#000" stroke="#000" stroke-width="0.22">Experiment 7</text><polyline points="131.70,503.40 149.60,502.20 167.50,503.80 185.40,503.40 203.30,501.50 221.20,502.40 239.10,501.80" stroke="#85552a" stroke-width="0.7" fill="none"/><circle cx="131.70" cy="503.40" r="1.25" fill="#85552a"/><circle cx="149.60" cy="502.20" r="1.25" fill="#85552a"/><circle cx="167.50" cy="503.80" r="1.25" fill="#85552a"/><circle cx="185.40" cy="503.40" r="1.25" fill="#85552a"/><circle cx="203.30" cy="501.50" r="1.25" fill="#85552a"/><circle cx="221.20" cy="502.40" r="1.25" fill="#85552a"/><circle cx="239.10" cy="501.80" r="1.25" fill="#85552a"/><polyline points="131.70,504.90 149.60,523.50 167.50,520.40 185.40,527.00 203.30,526.30 221.20,530.40 239.10,525.00" stroke="#0000ff" stroke-width="0.7" fill="none"/><circle cx="131.70" cy="504.90" r="1.25" fill="#0000ff"/><circle cx="149.60" cy="523.50" r="1.25" fill="#0000ff"/><circle cx="167.50" cy="520.40" r="1.25" fill="#0000ff"/><circle cx="185.40" cy="527.00" r="1.25" fill="#0000ff"/><circle cx="203.30" cy="526.30" r="1.25" fill="#0000ff"/><circle cx="221.20" cy="530.40" r="1.25" fill="#0000ff"/><circle cx="239.10" cy="525.00" r="1.25" fill="#0000ff"/><polyline points="131.70,503.60 149.60,502.20 167.50,504.00 185.40,503.40 203.30,502.10 221.20,502.40 239.10,502.40" stroke="#ff0000" stroke-width="0.7" fill="none"/><circle cx="131.70" cy="503.60" r="1.25" fill="#ff0000"/><circle cx="149.60" cy="502.20" r="1.25" fill="#ff0000"/><circle cx="167.50" cy="504.00" r="1.25" fill="#ff0000"/><circle cx="185.40" cy="503.40" r="1.25" fill="#ff0000"/><circle cx="203.30" cy="502.10" r="1.25" fill="#ff0000"/><circle cx="221.20" cy="502.40" r="1.25" fill="#ff0000"/><circle cx="239.10" cy="502.40" r="1.25" fill="#ff0000"/><polyline points="131.70,543.20 149.60,504.00 167.50,514.40 185.40,514.40 203.30,504.10 221.20,504.10 239.10,504.10" stroke="#00c000" stroke-width="0.7" fill="none"/><circle cx="131.70" cy="543.20" r="1.25" fill="#00c000"/><circle cx="149.60" cy="504.00" r="1.25" fill="#00c000"/><circle cx="167.50" cy="514.40" r="1.25" fill="#00c000"/><circle cx="185.40" cy="514.40" r="1.25" fill="#00c000"/><circle cx="203.30" cy="504.10" r="1.25" fill="#00c000"/><circle cx="221.20" cy="504.10" r="1.25" fill="#00c000"/><circle cx="239.10" cy="504.10" r="1.25" fill="#00c000"/><polyline points="131.70,516.30 149.60,503.20 167.50,509.40 185.40,503.40 203.30,502.90 221.20,505.00 239.10,508.60" stroke="#bb00ff" stroke-width="0.7" fill="none"/><circle cx="131.70" cy="516.30" r="1.25" fill="#bb00ff"/><circle cx="149.60" cy="503.20" r="1.25" fill="#bb00ff"/><circle cx="167.50" cy="509.40" r="1.25" fill="#bb00ff"/><circle cx="185.40" cy="503.40" r="1.25" fill="#bb00ff"/><circle cx="203.30" cy="502.90" r="1.25" fill="#bb00ff"/><circle cx="221.20" cy="505.00" r="1.25" fill="#bb00ff"/><circle cx="239.10" cy="508.60" r="1.25" fill="#bb00ff"/><polyline points="131.70,499.50 149.60,498.60 167.50,499.70 185.40,499.30 203.30,499.10 221.20,498.50 239.10,498.80" stroke="#ff8000" stroke-width="0.7" fill="none"/><circle cx="131.70" cy="499.50" r="1.25" fill="#ff8000"/><circle cx="149.60" cy="498.60" r="1.25" fill="#ff8000"/><circle cx="167.50" cy="499.70" r="1.25" fill="#ff8000"/><circle cx="185.40" cy="499.30" r="1.25" fill="#ff8000"/><circle cx="203.30" cy="499.10" r="1.25" fill="#ff8000"/><circle cx="221.20" cy="498.50" r="1.25" fill="#ff8000"/><circle cx="239.10" cy="498.80" r="1.25" fill="#ff8000"/><polyline points="131.70,503.20 149.60,501.40 167.50,503.40 185.40,503.40 203.30,500.80 221.20,502.40 239.10,501.30" stroke="#000000" stroke-width="0.7" fill="none"/><circle cx="131.70" cy="503.20" r="1.25" fill="#000000"/><circle cx="149.60" cy="501.40" r="1.25" fill="#000000"/><circle cx="167.50" cy="503.40" r="1.25" fill="#000000"/><circle cx="185.40" cy="503.40" r="1.25" fill="#000000"/><circle cx="203.30" cy="500.80" r="1.25" fill="#000000"/><circle cx="221.20" cy="502.40" r="1.25" fill="#000000"/><circle cx="239.10" cy="501.30" r="1.25" fill="#000000"/><path d="M258.7 500.70h4.2" stroke="#000000" stroke-width="0.7"/><circle cx="260.8" cy="500.70" r="1.2" fill="#000000"/><text x="265.9" y="502.50" font-size="5.55" fill="#222">MLP</text><path d="M258.7 506.80h4.2" stroke="#ff8000" stroke-width="0.7"/><circle cx="260.8" cy="506.80" r="1.2" fill="#ff8000"/><text x="265.9" y="508.60" font-size="5.55" fill="#222">GradientBoosting</text><path d="M258.7 512.90h4.2" stroke="#bb00ff" stroke-width="0.7"/><circle cx="260.8" cy="512.90" r="1.2" fill="#bb00ff"/><text x="265.9" y="514.70" font-size="5.55" fill="#222">RandomForest</text><path d="M258.7 519.00h4.2" stroke="#00c000" stroke-width="0.7"/><circle cx="260.8" cy="519.00" r="1.2" fill="#00c000"/><text x="265.9" y="520.80" font-size="5.55" fill="#222">DecisionTree</text><path d="M258.7 525.10h4.2" stroke="#ff0000" stroke-width="0.7"/><circle cx="260.8" cy="525.10" r="1.2" fill="#ff0000"/><text x="265.9" y="526.90" font-size="5.55" fill="#222">LogisticRegression</text><path d="M258.7 531.20h4.2" stroke="#0000ff" stroke-width="0.7"/><circle cx="260.8" cy="531.20" r="1.2" fill="#0000ff"/><text x="265.9" y="533.00" font-size="5.55" fill="#222">KNN</text><path d="M258.7 537.30h4.2" stroke="#85552a" stroke-width="0.7"/><circle cx="260.8" cy="537.30" r="1.2" fill="#85552a"/><text x="265.9" y="539.10" font-size="5.55" fill="#222">SVM</text></g>
<g><text x="422.6" y="44.2" font-size="8" font-weight="bold" text-anchor="middle" fill="#000" stroke="#000" stroke-width="0.18">Dataset 3</text><text transform="translate(342.9,79.9) rotate(-90)" font-size="7.4" text-anchor="middle" textLength="16.0" lengthAdjust="spacingAndGlyphs" fill="#000" stroke="#000" stroke-width="0.2">Score</text><path d="M355.1 51.80H356.5 M355.1 56.62H356.5 M355.1 61.43H356.5 M355.1 66.25H356.5 M355.1 71.07H356.5 M355.1 75.88H356.5 M355.1 80.70H356.5 M355.1 85.52H356.5 M355.1 90.33H356.5 M355.1 95.15H356.5 M355.1 99.97H356.5 M355.1 104.78H356.5 M355.1 109.60H356.5" stroke="#000" stroke-width="0.9" fill="none"/><text x="353.9" y="110.95" font-size="4.6" font-weight="bold" text-anchor="end" fill="#1a1a1a" stroke="#1a1a1a" stroke-width="0.05">0.80</text><text x="353.9" y="96.50" font-size="4.6" font-weight="bold" text-anchor="end" fill="#1a1a1a" stroke="#1a1a1a" stroke-width="0.05">0.85</text><text x="353.9" y="82.05" font-size="4.6" font-weight="bold" text-anchor="end" fill="#1a1a1a" stroke="#1a1a1a" stroke-width="0.05">0.90</text><text x="353.9" y="67.60" font-size="4.6" font-weight="bold" text-anchor="end" fill="#1a1a1a" stroke="#1a1a1a" stroke-width="0.05">0.95</text><text x="353.9" y="53.15" font-size="4.6" font-weight="bold" text-anchor="end" fill="#1a1a1a" stroke="#1a1a1a" stroke-width="0.05">1.00</text><path d="M354.2 109.60H356.5 M354.2 95.15H356.5 M354.2 80.70H356.5 M354.2 66.25H356.5 M354.2 51.80H356.5" stroke="#111" stroke-width="0.7" fill="none"/><path d="M356.5 109.6H488.6" stroke="#808080" stroke-width="1.2" fill="none"/><path d="M356.5 51.45V109.3" stroke="#1a1a1a" stroke-width="0.85" fill="none"/><path d="M369.10 109.6v2.0 M387.00 109.6v2.0 M404.90 109.6v2.0 M422.80 109.6v2.0 M440.70 109.6v2.0 M458.60 109.6v2.0 M476.50 109.6v2.0" stroke="#222" stroke-width="0.7" fill="none"/><text transform="translate(371.30,117.00) rotate(-45)" font-size="6.8" font-weight="bold" text-anchor="end" fill="#000" stroke="#000" stroke-width="0.22">Experiment 1</text><text transform="translate(389.20,117.00) rotate(-45)" font-size="6.8" font-weight="bold" text-anchor="end" fill="#000" stroke="#000" stroke-width="0.22">Experiment 2</text><text transform="translate(407.10,117.00) rotate(-45)" font-size="6.8" font-weight="bold" text-anchor="end" fill="#000" stroke="#000" stroke-width="0.22">Experiment 3</text><text transform="translate(425.00,117.00) rotate(-45)" font-size="6.8" font-weight="bold" text-anchor="end" fill="#000" stroke="#000" stroke-width="0.22">Experiment 4</text><text transform="translate(442.90,117.00) rotate(-45)" font-size="6.8" font-weight="bold" text-anchor="end" fill="#000" stroke="#000" stroke-width="0.22">Experiment 5</text><text transform="translate(460.80,117.00) rotate(-45)" font-size="6.8" font-weight="bold" text-anchor="end" fill="#000" stroke="#000" stroke-width="0.22">Experiment 6</text><text transform="translate(478.70,117.00) rotate(-45)" font-size="6.8" font-weight="bold" text-anchor="end" fill="#000" stroke="#000" stroke-width="0.22">Experiment 7</text><polyline points="369.10,95.50 387.00,91.40 404.90,95.00 422.80,91.00 440.70,89.70 458.60,83.00 476.50,82.20" stroke="#85552a" stroke-width="0.7" fill="none"/><circle cx="369.10" cy="95.50" r="1.25" fill="#85552a"/><circle cx="387.00" cy="91.40" r="1.25" fill="#85552a"/><circle cx="404.90" cy="95.00" r="1.25" fill="#85552a"/><circle cx="422.80" cy="91.00" r="1.25" fill="#85552a"/><circle cx="440.70" cy="89.70" r="1.25" fill="#85552a"/><circle cx="458.60" cy="83.00" r="1.25" fill="#85552a"/><circle cx="476.50" cy="82.20" r="1.25" fill="#85552a"/><polyline points="369.10,96.60 387.00,97.00 404.90,97.50 422.80,97.00 440.70,97.50 458.60,95.20 476.50,94.50" stroke="#0000ff" stroke-width="0.7" fill="none"/><circle cx="369.10" cy="96.60" r="1.25" fill="#0000ff"/><circle cx="387.00" cy="97.00" r="1.25" fill="#0000ff"/><circle cx="404.90" cy="97.50" r="1.25" fill="#0000ff"/><circle cx="422.80" cy="97.00" r="1.25" fill="#0000ff"/><circle cx="440.70" cy="97.50" r="1.25" fill="#0000ff"/><circle cx="458.60" cy="95.20" r="1.25" fill="#0000ff"/><circle cx="476.50" cy="94.50" r="1.25" fill="#0000ff"/><polyline points="369.10,96.00 387.00,97.40 404.90,97.00 422.80,97.40 440.70,97.30 458.60,97.00 476.50,97.50" stroke="#ff0000" stroke-width="0.7" fill="none"/><circle cx="369.10" cy="96.00" r="1.25" fill="#ff0000"/><circle cx="387.00" cy="97.40" r="1.25" fill="#ff0000"/><circle cx="404.90" cy="97.00" r="1.25" fill="#ff0000"/><circle cx="422.80" cy="97.40" r="1.25" fill="#ff0000"/><circle cx="440.70" cy="97.30" r="1.25" fill="#ff0000"/><circle cx="458.60" cy="97.00" r="1.25" fill="#ff0000"/><circle cx="476.50" cy="97.50" r="1.25" fill="#ff0000"/><polyline points="369.10,96.30 387.00,95.40 404.90,97.00 422.80,96.00 440.70,97.00 458.60,97.00 476.50,96.50" stroke="#00c000" stroke-width="0.7" fill="none"/><circle cx="369.10" cy="96.30" r="1.25" fill="#00c000"/><circle cx="387.00" cy="95.40" r="1.25" fill="#00c000"/><circle cx="404.90" cy="97.00" r="1.25" fill="#00c000"/><circle cx="422.80" cy="96.00" r="1.25" fill="#00c000"/><circle cx="440.70" cy="97.00" r="1.25" fill="#00c000"/><circle cx="458.60" cy="97.00" r="1.25" fill="#00c000"/><circle cx="476.50" cy="96.50" r="1.25" fill="#00c000"/><polyline points="369.10,107.40 387.00,90.60 404.90,103.80 422.80,96.00 440.70,93.00 458.60,92.50 476.50,92.50" stroke="#bb00ff" stroke-width="0.7" fill="none"/><circle cx="369.10" cy="107.40" r="1.25" fill="#bb00ff"/><circle cx="387.00" cy="90.60" r="1.25" fill="#bb00ff"/><circle cx="404.90" cy="103.80" r="1.25" fill="#bb00ff"/><circle cx="422.80" cy="96.00" r="1.25" fill="#bb00ff"/><circle cx="440.70" cy="93.00" r="1.25" fill="#bb00ff"/><circle cx="458.60" cy="92.50" r="1.25" fill="#bb00ff"/><circle cx="476.50" cy="92.50" r="1.25" fill="#bb00ff"/><polyline points="369.10,94.60 387.00,93.00 404.90,95.50 422.80,94.30 440.70,90.80 458.60,92.00 476.50,92.00" stroke="#ff8000" stroke-width="0.7" fill="none"/><circle cx="369.10" cy="94.60" r="1.25" fill="#ff8000"/><circle cx="387.00" cy="93.00" r="1.25" fill="#ff8000"/><circle cx="404.90" cy="95.50" r="1.25" fill="#ff8000"/><circle cx="422.80" cy="94.30" r="1.25" fill="#ff8000"/><circle cx="440.70" cy="90.80" r="1.25" fill="#ff8000"/><circle cx="458.60" cy="92.00" r="1.25" fill="#ff8000"/><circle cx="476.50" cy="92.00" r="1.25" fill="#ff8000"/><polyline points="369.10,96.80 387.00,85.60 404.90,97.40 422.80,96.00 440.70,88.00 458.60,85.00 476.50,84.80" stroke="#000000" stroke-width="0.7" fill="none"/><circle cx="369.10" cy="96.80" r="1.25" fill="#000000"/><circle cx="387.00" cy="85.60" r="1.25" fill="#000000"/><circle cx="404.90" cy="97.40" r="1.25" fill="#000000"/><circle cx="422.80" cy="96.00" r="1.25" fill="#000000"/><circle cx="440.70" cy="88.00" r="1.25" fill="#000000"/><circle cx="458.60" cy="85.00" r="1.25" fill="#000000"/><circle cx="476.50" cy="84.80" r="1.25" fill="#000000"/><path d="M495.5 59.90h4.2" stroke="#000000" stroke-width="0.7"/><circle cx="497.6" cy="59.90" r="1.2" fill="#000000"/><text x="502.9" y="61.70" font-size="5.55" fill="#222">MLP</text><path d="M495.5 65.95h4.2" stroke="#ff8000" stroke-width="0.7"/><circle cx="497.6" cy="65.95" r="1.2" fill="#ff8000"/><text x="502.9" y="67.75" font-size="5.55" fill="#222">GradientBoosting</text><path d="M495.5 72.00h4.2" stroke="#bb00ff" stroke-width="0.7"/><circle cx="497.6" cy="72.00" r="1.2" fill="#bb00ff"/><text x="502.9" y="73.80" font-size="5.55" fill="#222">RandomForest</text><path d="M495.5 78.05h4.2" stroke="#00c000" stroke-width="0.7"/><circle cx="497.6" cy="78.05" r="1.2" fill="#00c000"/><text x="502.9" y="79.85" font-size="5.55" fill="#222">DecisionTree</text><path d="M495.5 84.10h4.2" stroke="#ff0000" stroke-width="0.7"/><circle cx="497.6" cy="84.10" r="1.2" fill="#ff0000"/><text x="502.9" y="85.90" font-size="5.55" fill="#222">LogisticRegression</text><path d="M495.5 90.15h4.2" stroke="#0000ff" stroke-width="0.7"/><circle cx="497.6" cy="90.15" r="1.2" fill="#0000ff"/><text x="502.9" y="91.95" font-size="5.55" fill="#222">KNN</text><path d="M495.5 96.20h4.2" stroke="#85552a" stroke-width="0.7"/><circle cx="497.6" cy="96.20" r="1.2" fill="#85552a"/><text x="502.9" y="98.00" font-size="5.55" fill="#222">SVM</text></g>
<g><text x="421.6" y="153.9" font-size="8" font-weight="bold" text-anchor="middle" fill="#000" stroke="#000" stroke-width="0.18">Dataset 3</text><text transform="translate(344.9,189.9) rotate(-90)" font-size="7.4" text-anchor="middle" textLength="16.0" lengthAdjust="spacingAndGlyphs" fill="#000" stroke="#000" stroke-width="0.2">Score</text><path d="M354.1 161.80H355.5 M354.1 165.65H355.5 M354.1 169.51H355.5 M354.1 173.36H355.5 M354.1 177.21H355.5 M354.1 181.07H355.5 M354.1 184.92H355.5 M354.1 188.77H355.5 M354.1 192.63H355.5 M354.1 196.48H355.5 M354.1 200.33H355.5 M354.1 204.19H355.5 M354.1 208.04H355.5 M354.1 211.89H355.5 M354.1 215.75H355.5 M354.1 219.60H355.5" stroke="#000" stroke-width="0.9" fill="none"/><text x="352.9" y="220.95" font-size="4.6" font-weight="bold" text-anchor="end" fill="#1a1a1a" stroke="#1a1a1a" stroke-width="0.05">0.0</text><text x="352.9" y="209.39" font-size="4.6" font-weight="bold" text-anchor="end" fill="#1a1a1a" stroke="#1a1a1a" stroke-width="0.05">0.2</text><text x="352.9" y="197.83" font-size="4.6" font-weight="bold" text-anchor="end" fill="#1a1a1a" stroke="#1a1a1a" stroke-width="0.05">0.4</text><text x="352.9" y="186.27" font-size="4.6" font-weight="bold" text-anchor="end" fill="#1a1a1a" stroke="#1a1a1a" stroke-width="0.05">0.6</text><text x="352.9" y="174.71" font-size="4.6" font-weight="bold" text-anchor="end" fill="#1a1a1a" stroke="#1a1a1a" stroke-width="0.05">0.8</text><text x="352.9" y="163.15" font-size="4.6" font-weight="bold" text-anchor="end" fill="#1a1a1a" stroke="#1a1a1a" stroke-width="0.05">1.0</text><path d="M353.2 219.60H355.5 M353.2 208.04H355.5 M353.2 196.48H355.5 M353.2 184.92H355.5 M353.2 173.36H355.5 M353.2 161.80H355.5" stroke="#111" stroke-width="0.7" fill="none"/><path d="M355.5 219.6H486.9" stroke="#808080" stroke-width="1.2" fill="none"/><path d="M355.5 161.45V219.3" stroke="#1a1a1a" stroke-width="0.85" fill="none"/><path d="M367.50 219.6v2.0 M385.40 219.6v2.0 M403.30 219.6v2.0 M421.20 219.6v2.0 M439.10 219.6v2.0 M457.00 219.6v2.0 M474.90 219.6v2.0" stroke="#222" stroke-width="0.7" fill="none"/><text transform="translate(369.70,227.00) rotate(-45)" font-size="6.8" font-weight="bold" text-anchor="end" fill="#000" stroke="#000" stroke-width="0.22">Experiment 1</text><text transform="translate(387.60,227.00) rotate(-45)" font-size="6.8" font-weight="bold" text-anchor="end" fill="#000" stroke="#000" stroke-width="0.22">Experiment 2</text><text transform="translate(405.50,227.00) rotate(-45)" font-size="6.8" font-weight="bold" text-anchor="end" fill="#000" stroke="#000" stroke-width="0.22">Experiment 3</text><text transform="translate(423.40,227.00) rotate(-45)" font-size="6.8" font-weight="bold" text-anchor="end" fill="#000" stroke="#000" stroke-width="0.22">Experiment 4</text><text transform="translate(441.30,227.00) rotate(-45)" font-size="6.8" font-weight="bold" text-anchor="end" fill="#000" stroke="#000" stroke-width="0.22">Experiment 5</text><text transform="translate(459.20,227.00) rotate(-45)" font-size="6.8" font-weight="bold" text-anchor="end" fill="#000" stroke="#000" stroke-width="0.22">Experiment 6</text><text transform="translate(477.10,227.00) rotate(-45)" font-size="6.8" font-weight="bold" text-anchor="end" fill="#000" stroke="#000" stroke-width="0.22">Experiment 7</text><polyline points="367.50,185.70 385.40,184.40 403.30,193.40 421.20,181.60 439.10,182.70 457.00,180.80 474.90,181.10" stroke="#85552a" stroke-width="0.7" fill="none"/><circle cx="367.50" cy="185.70" r="1.25" fill="#85552a"/><circle cx="385.40" cy="184.40" r="1.25" fill="#85552a"/><circle cx="403.30" cy="193.40" r="1.25" fill="#85552a"/><circle cx="421.20" cy="181.60" r="1.25" fill="#85552a"/><circle cx="439.10" cy="182.70" r="1.25" fill="#85552a"/><circle cx="457.00" cy="180.80" r="1.25" fill="#85552a"/><circle cx="474.90" cy="181.10" r="1.25" fill="#85552a"/><polyline points="367.50,179.80 385.40,189.30 403.30,205.20 421.20,190.60 439.10,192.20 457.00,187.30 474.90,188.00" stroke="#0000ff" stroke-width="0.7" fill="none"/><circle cx="367.50" cy="179.80" r="1.25" fill="#0000ff"/><circle cx="385.40" cy="189.30" r="1.25" fill="#0000ff"/><circle cx="403.30" cy="205.20" r="1.25" fill="#0000ff"/><circle cx="421.20" cy="190.60" r="1.25" fill="#0000ff"/><circle cx="439.10" cy="192.20" r="1.25" fill="#0000ff"/><circle cx="457.00" cy="187.30" r="1.25" fill="#0000ff"/><circle cx="474.90" cy="188.00" r="1.25" fill="#0000ff"/><polyline points="367.50,219.60 385.40,219.60 403.30,219.60 421.20,219.60 439.10,219.60 457.00,219.60 474.90,219.60" stroke="#e98a8a" stroke-width="1.4" fill="none"/><circle cx="367.50" cy="219.60" r="1.25" fill="#ff0000"/><circle cx="385.40" cy="219.60" r="1.25" fill="#ff0000"/><circle cx="403.30" cy="219.60" r="1.25" fill="#ff0000"/><circle cx="421.20" cy="219.60" r="1.25" fill="#ff0000"/><circle cx="439.10" cy="219.60" r="1.25" fill="#ff0000"/><circle cx="457.00" cy="219.60" r="1.25" fill="#ff0000"/><circle cx="474.90" cy="219.60" r="1.25" fill="#ff0000"/><polyline points="367.50,177.30 385.40,186.30 403.30,181.10 421.20,178.20 439.10,219.60 457.00,190.60 474.90,188.80" stroke="#00c000" stroke-width="0.7" fill="none"/><circle cx="367.50" cy="177.30" r="1.25" fill="#00c000"/><circle cx="385.40" cy="186.30" r="1.25" fill="#00c000"/><circle cx="403.30" cy="181.10" r="1.25" fill="#00c000"/><circle cx="421.20" cy="178.20" r="1.25" fill="#00c000"/><circle cx="439.10" cy="219.60" r="1.25" fill="#00c000"/><circle cx="457.00" cy="190.60" r="1.25" fill="#00c000"/><circle cx="474.90" cy="188.80" r="1.25" fill="#00c000"/><polyline points="367.50,202.90 385.40,180.80 403.30,200.70 421.20,188.50 439.10,185.50 457.00,183.60 474.90,182.70" stroke="#bb00ff" stroke-width="0.7" fill="none"/><circle cx="367.50" cy="202.90" r="1.25" fill="#bb00ff"/><circle cx="385.40" cy="180.80" r="1.25" fill="#bb00ff"/><circle cx="403.30" cy="200.70" r="1.25" fill="#bb00ff"/><circle cx="421.20" cy="188.50" r="1.25" fill="#bb00ff"/><circle cx="439.10" cy="185.50" r="1.25" fill="#bb00ff"/><circle cx="457.00" cy="183.60" r="1.25" fill="#bb00ff"/><circle cx="474.90" cy="182.70" r="1.25" fill="#bb00ff"/><polyline points="367.50,173.40 385.40,183.60 403.30,177.10 421.20,177.80 439.10,179.00 457.00,180.30 474.90,183.90" stroke="#ff8000" stroke-width="0.7" fill="none"/><circle cx="367.50" cy="173.40" r="1.25" fill="#ff8000"/><circle cx="385.40" cy="183.60" r="1.25" fill="#ff8000"/><circle cx="403.30" cy="177.10" r="1.25" fill="#ff8000"/><circle cx="421.20" cy="177.80" r="1.25" fill="#ff8000"/><circle cx="439.10" cy="179.00" r="1.25" fill="#ff8000"/><circle cx="457.00" cy="180.30" r="1.25" fill="#ff8000"/><circle cx="474.90" cy="183.90" r="1.25" fill="#ff8000"/><polyline points="367.50,219.60 385.40,175.70 403.30,219.60 421.20,186.80 439.10,175.40 457.00,178.20 474.90,179.80" stroke="#000000" stroke-width="0.7" fill="none"/><circle cx="367.50" cy="219.60" r="1.25" fill="#000000"/><circle cx="385.40" cy="175.70" r="1.25" fill="#000000"/><circle cx="403.30" cy="219.60" r="1.25" fill="#000000"/><circle cx="421.20" cy="186.80" r="1.25" fill="#000000"/><circle cx="439.10" cy="175.40" r="1.25" fill="#000000"/><circle cx="457.00" cy="178.20" r="1.25" fill="#000000"/><circle cx="474.90" cy="179.80" r="1.25" fill="#000000"/><path d="M493.9 170.50h4.2" stroke="#000000" stroke-width="0.7"/><circle cx="496.0" cy="170.50" r="1.2" fill="#000000"/><text x="501.7" y="172.30" font-size="5.55" fill="#222">MLP</text><path d="M493.9 176.55h4.2" stroke="#ff8000" stroke-width="0.7"/><circle cx="496.0" cy="176.55" r="1.2" fill="#ff8000"/><text x="501.7" y="178.35" font-size="5.55" fill="#222">GradientBoosting</text><path d="M493.9 182.60h4.2" stroke="#bb00ff" stroke-width="0.7"/><circle cx="496.0" cy="182.60" r="1.2" fill="#bb00ff"/><text x="501.7" y="184.40" font-size="5.55" fill="#222">RandomForest</text><path d="M493.9 188.65h4.2" stroke="#00c000" stroke-width="0.7"/><circle cx="496.0" cy="188.65" r="1.2" fill="#00c000"/><text x="501.7" y="190.45" font-size="5.55" fill="#222">DecisionTree</text><path d="M493.9 194.70h4.2" stroke="#ff0000" stroke-width="0.7"/><circle cx="496.0" cy="194.70" r="1.2" fill="#ff0000"/><text x="501.7" y="196.50" font-size="5.55" fill="#222">LogisticRegression</text><path d="M493.9 200.75h4.2" stroke="#0000ff" stroke-width="0.7"/><circle cx="496.0" cy="200.75" r="1.2" fill="#0000ff"/><text x="501.7" y="202.55" font-size="5.55" fill="#222">KNN</text><path d="M493.9 206.80h4.2" stroke="#85552a" stroke-width="0.7"/><circle cx="496.0" cy="206.80" r="1.2" fill="#85552a"/><text x="501.7" y="208.60" font-size="5.55" fill="#222">SVM</text></g>
<g><text x="421.6" y="264.4" font-size="8" font-weight="bold" text-anchor="middle" fill="#000" stroke="#000" stroke-width="0.18">Dataset 3</text><text transform="translate(344.9,300.3) rotate(-90)" font-size="7.4" text-anchor="middle" textLength="16.0" lengthAdjust="spacingAndGlyphs" fill="#000" stroke="#000" stroke-width="0.2">Score</text><path d="M354.1 272.30H355.5 M354.1 277.10H355.5 M354.1 281.90H355.5 M354.1 286.70H355.5 M354.1 291.50H355.5 M354.1 296.30H355.5 M354.1 301.10H355.5 M354.1 305.90H355.5 M354.1 310.70H355.5 M354.1 315.50H355.5 M354.1 320.30H355.5 M354.1 325.10H355.5 M354.1 329.90H355.5" stroke="#000" stroke-width="0.9" fill="none"/><text x="352.9" y="331.25" font-size="4.6" font-weight="bold" text-anchor="end" fill="#1a1a1a" stroke="#1a1a1a" stroke-width="0.05">0.0</text><text x="352.9" y="316.85" font-size="4.6" font-weight="bold" text-anchor="end" fill="#1a1a1a" stroke="#1a1a1a" stroke-width="0.05">0.2</text><text x="352.9" y="302.45" font-size="4.6" font-weight="bold" text-anchor="end" fill="#1a1a1a" stroke="#1a1a1a" stroke-width="0.05">0.4</text><text x="352.9" y="288.05" font-size="4.6" font-weight="bold" text-anchor="end" fill="#1a1a1a" stroke="#1a1a1a" stroke-width="0.05">0.6</text><text x="352.9" y="273.65" font-size="4.6" font-weight="bold" text-anchor="end" fill="#1a1a1a" stroke="#1a1a1a" stroke-width="0.05">0.8</text><path d="M353.2 329.90H355.5 M353.2 315.50H355.5 M353.2 301.10H355.5 M353.2 286.70H355.5 M353.2 272.30H355.5" stroke="#111" stroke-width="0.7" fill="none"/><path d="M355.5 329.9H486.9" stroke="#808080" stroke-width="1.2" fill="none"/><path d="M355.5 271.95V329.6" stroke="#1a1a1a" stroke-width="0.85" fill="none"/><path d="M367.50 329.9v2.0 M385.40 329.9v2.0 M403.30 329.9v2.0 M421.20 329.9v2.0 M439.10 329.9v2.0 M457.00 329.9v2.0 M474.90 329.9v2.0" stroke="#222" stroke-width="0.7" fill="none"/><text transform="translate(369.70,337.30) rotate(-45)" font-size="6.8" font-weight="bold" text-anchor="end" fill="#000" stroke="#000" stroke-width="0.22">Experiment 1</text><text transform="translate(387.60,337.30) rotate(-45)" font-size="6.8" font-weight="bold" text-anchor="end" fill="#000" stroke="#000" stroke-width="0.22">Experiment 2</text><text transform="translate(405.50,337.30) rotate(-45)" font-size="6.8" font-weight="bold" text-anchor="end" fill="#000" stroke="#000" stroke-width="0.22">Experiment 3</text><text transform="translate(423.40,337.30) rotate(-45)" font-size="6.8" font-weight="bold" text-anchor="end" fill="#000" stroke="#000" stroke-width="0.22">Experiment 4</text><text transform="translate(441.30,337.30) rotate(-45)" font-size="6.8" font-weight="bold" text-anchor="end" fill="#000" stroke="#000" stroke-width="0.22">Experiment 5</text><text transform="translate(459.20,337.30) rotate(-45)" font-size="6.8" font-weight="bold" text-anchor="end" fill="#000" stroke="#000" stroke-width="0.22">Experiment 6</text><text transform="translate(477.10,337.30) rotate(-45)" font-size="6.8" font-weight="bold" text-anchor="end" fill="#000" stroke="#000" stroke-width="0.22">Experiment 7</text><polyline points="367.50,324.00 385.40,303.50 403.30,324.60 421.20,309.40 439.10,304.20 457.00,286.70 474.90,288.20" stroke="#85552a" stroke-width="0.7" fill="none"/><circle cx="367.50" cy="324.00" r="1.25" fill="#85552a"/><circle cx="385.40" cy="303.50" r="1.25" fill="#85552a"/><circle cx="403.30" cy="324.60" r="1.25" fill="#85552a"/><circle cx="421.20" cy="309.40" r="1.25" fill="#85552a"/><circle cx="439.10" cy="304.20" r="1.25" fill="#85552a"/><circle cx="457.00" cy="286.70" r="1.25" fill="#85552a"/><circle cx="474.90" cy="288.20" r="1.25" fill="#85552a"/><polyline points="367.50,327.10 385.40,324.20 403.30,327.40 421.20,318.10 439.10,318.90 457.00,315.60 474.90,306.30" stroke="#0000ff" stroke-width="0.7" fill="none"/><circle cx="367.50" cy="327.10" r="1.25" fill="#0000ff"/><circle cx="385.40" cy="324.20" r="1.25" fill="#0000ff"/><circle cx="403.30" cy="327.40" r="1.25" fill="#0000ff"/><circle cx="421.20" cy="318.10" r="1.25" fill="#0000ff"/><circle cx="439.10" cy="318.90" r="1.25" fill="#0000ff"/><circle cx="457.00" cy="315.60" r="1.25" fill="#0000ff"/><circle cx="474.90" cy="306.30" r="1.25" fill="#0000ff"/><polyline points="367.50,329.90 385.40,329.90 403.30,329.90 421.20,329.90 439.10,329.90 457.00,329.90 474.90,329.90" stroke="#e98a8a" stroke-width="1.4" fill="none"/><circle cx="367.50" cy="329.90" r="1.25" fill="#ff0000"/><circle cx="385.40" cy="329.90" r="1.25" fill="#ff0000"/><circle cx="403.30" cy="329.90" r="1.25" fill="#ff0000"/><circle cx="421.20" cy="329.90" r="1.25" fill="#ff0000"/><circle cx="439.10" cy="329.90" r="1.25" fill="#ff0000"/><circle cx="457.00" cy="329.90" r="1.25" fill="#ff0000"/><circle cx="474.90" cy="329.90" r="1.25" fill="#ff0000"/><polyline points="367.50,323.00 385.40,320.90 403.30,324.20 421.20,323.00 439.10,329.90 457.00,321.90 474.90,321.90" stroke="#00c000" stroke-width="0.7" fill="none"/><circle cx="367.50" cy="323.00" r="1.25" fill="#00c000"/><circle cx="385.40" cy="320.90" r="1.25" fill="#00c000"/><circle cx="403.30" cy="324.20" r="1.25" fill="#00c000"/><circle cx="421.20" cy="323.00" r="1.25" fill="#00c000"/><circle cx="439.10" cy="329.90" r="1.25" fill="#00c000"/><circle cx="457.00" cy="321.90" r="1.25" fill="#00c000"/><circle cx="474.90" cy="321.90" r="1.25" fill="#00c000"/><polyline points="367.50,318.10 385.40,310.70 403.30,319.70 421.20,312.70 439.10,308.80 457.00,310.20 474.90,312.00" stroke="#bb00ff" stroke-width="0.7" fill="none"/><circle cx="367.50" cy="318.10" r="1.25" fill="#bb00ff"/><circle cx="385.40" cy="310.70" r="1.25" fill="#bb00ff"/><circle cx="403.30" cy="319.70" r="1.25" fill="#bb00ff"/><circle cx="421.20" cy="312.70" r="1.25" fill="#bb00ff"/><circle cx="439.10" cy="308.80" r="1.25" fill="#bb00ff"/><circle cx="457.00" cy="310.20" r="1.25" fill="#bb00ff"/><circle cx="474.90" cy="312.00" r="1.25" fill="#bb00ff"/><polyline points="367.50,323.80 385.40,313.20 403.30,325.50 421.20,321.90 439.10,315.30 457.00,314.00 474.90,309.90" stroke="#ff8000" stroke-width="0.7" fill="none"/><circle cx="367.50" cy="323.80" r="1.25" fill="#ff8000"/><circle cx="385.40" cy="313.20" r="1.25" fill="#ff8000"/><circle cx="403.30" cy="325.50" r="1.25" fill="#ff8000"/><circle cx="421.20" cy="321.90" r="1.25" fill="#ff8000"/><circle cx="439.10" cy="315.30" r="1.25" fill="#ff8000"/><circle cx="457.00" cy="314.00" r="1.25" fill="#ff8000"/><circle cx="474.90" cy="309.90" r="1.25" fill="#ff8000"/><polyline points="367.50,329.90 385.40,303.00 403.30,329.60 421.20,322.50 439.10,308.30 457.00,297.60 474.90,293.10" stroke="#000000" stroke-width="0.7" fill="none"/><circle cx="367.50" cy="329.90" r="1.25" fill="#000000"/><circle cx="385.40" cy="303.00" r="1.25" fill="#000000"/><circle cx="403.30" cy="329.60" r="1.25" fill="#000000"/><circle cx="421.20" cy="322.50" r="1.25" fill="#000000"/><circle cx="439.10" cy="308.30" r="1.25" fill="#000000"/><circle cx="457.00" cy="297.60" r="1.25" fill="#000000"/><circle cx="474.90" cy="293.10" r="1.25" fill="#000000"/><path d="M493.9 280.70h4.2" stroke="#000000" stroke-width="0.7"/><circle cx="496.0" cy="280.70" r="1.2" fill="#000000"/><text x="501.7" y="282.50" font-size="5.55" fill="#222">MLP</text><path d="M493.9 286.75h4.2" stroke="#ff8000" stroke-width="0.7"/><circle cx="496.0" cy="286.75" r="1.2" fill="#ff8000"/><text x="501.7" y="288.55" font-size="5.55" fill="#222">GradientBoosting</text><path d="M493.9 292.80h4.2" stroke="#bb00ff" stroke-width="0.7"/><circle cx="496.0" cy="292.80" r="1.2" fill="#bb00ff"/><text x="501.7" y="294.60" font-size="5.55" fill="#222">RandomForest</text><path d="M493.9 298.85h4.2" stroke="#00c000" stroke-width="0.7"/><circle cx="496.0" cy="298.85" r="1.2" fill="#00c000"/><text x="501.7" y="300.65" font-size="5.55" fill="#222">DecisionTree</text><path d="M493.9 304.90h4.2" stroke="#ff0000" stroke-width="0.7"/><circle cx="496.0" cy="304.90" r="1.2" fill="#ff0000"/><text x="501.7" y="306.70" font-size="5.55" fill="#222">LogisticRegression</text><path d="M493.9 310.95h4.2" stroke="#0000ff" stroke-width="0.7"/><circle cx="496.0" cy="310.95" r="1.2" fill="#0000ff"/><text x="501.7" y="312.75" font-size="5.55" fill="#222">KNN</text><path d="M493.9 317.00h4.2" stroke="#85552a" stroke-width="0.7"/><circle cx="496.0" cy="317.00" r="1.2" fill="#85552a"/><text x="501.7" y="318.80" font-size="5.55" fill="#222">SVM</text></g>
<g><text x="421.6" y="375.2" font-size="8" font-weight="bold" text-anchor="middle" fill="#000" stroke="#000" stroke-width="0.18">Dataset 3</text><text transform="translate(344.9,411.2) rotate(-90)" font-size="7.4" text-anchor="middle" textLength="16.0" lengthAdjust="spacingAndGlyphs" fill="#000" stroke="#000" stroke-width="0.2">Score</text><path d="M354.1 383.10H355.5 M354.1 387.92H355.5 M354.1 392.73H355.5 M354.1 397.55H355.5 M354.1 402.37H355.5 M354.1 407.18H355.5 M354.1 412.00H355.5 M354.1 416.82H355.5 M354.1 421.63H355.5 M354.1 426.45H355.5 M354.1 431.27H355.5 M354.1 436.08H355.5 M354.1 440.90H355.5" stroke="#000" stroke-width="0.9" fill="none"/><text x="352.9" y="442.25" font-size="4.6" font-weight="bold" text-anchor="end" fill="#1a1a1a" stroke="#1a1a1a" stroke-width="0.05">0.0</text><text x="352.9" y="427.80" font-size="4.6" font-weight="bold" text-anchor="end" fill="#1a1a1a" stroke="#1a1a1a" stroke-width="0.05">0.2</text><text x="352.9" y="413.35" font-size="4.6" font-weight="bold" text-anchor="end" fill="#1a1a1a" stroke="#1a1a1a" stroke-width="0.05">0.4</text><text x="352.9" y="398.90" font-size="4.6" font-weight="bold" text-anchor="end" fill="#1a1a1a" stroke="#1a1a1a" stroke-width="0.05">0.6</text><text x="352.9" y="384.45" font-size="4.6" font-weight="bold" text-anchor="end" fill="#1a1a1a" stroke="#1a1a1a" stroke-width="0.05">0.8</text><path d="M353.2 440.90H355.5 M353.2 426.45H355.5 M353.2 412.00H355.5 M353.2 397.55H355.5 M353.2 383.10H355.5" stroke="#111" stroke-width="0.7" fill="none"/><path d="M355.5 440.9H486.9" stroke="#808080" stroke-width="1.2" fill="none"/><path d="M355.5 382.75V440.6" stroke="#1a1a1a" stroke-width="0.85" fill="none"/><path d="M367.50 440.9v2.0 M385.40 440.9v2.0 M403.30 440.9v2.0 M421.20 440.9v2.0 M439.10 440.9v2.0 M457.00 440.9v2.0 M474.90 440.9v2.0" stroke="#222" stroke-width="0.7" fill="none"/><text transform="translate(369.70,448.30) rotate(-45)" font-size="6.8" font-weight="bold" text-anchor="end" fill="#000" stroke="#000" stroke-width="0.22">Experiment 1</text><text transform="translate(387.60,448.30) rotate(-45)" font-size="6.8" font-weight="bold" text-anchor="end" fill="#000" stroke="#000" stroke-width="0.22">Experiment 2</text><text transform="translate(405.50,448.30) rotate(-45)" font-size="6.8" font-weight="bold" text-anchor="end" fill="#000" stroke="#000" stroke-width="0.22">Experiment 3</text><text transform="translate(423.40,448.30) rotate(-45)" font-size="6.8" font-weight="bold" text-anchor="end" fill="#000" stroke="#000" stroke-width="0.22">Experiment 4</text><text transform="translate(441.30,448.30) rotate(-45)" font-size="6.8" font-weight="bold" text-anchor="end" fill="#000" stroke="#000" stroke-width="0.22">Experiment 5</text><text transform="translate(459.20,448.30) rotate(-45)" font-size="6.8" font-weight="bold" text-anchor="end" fill="#000" stroke="#000" stroke-width="0.22">Experiment 6</text><text transform="translate(477.10,448.30) rotate(-45)" font-size="6.8" font-weight="bold" text-anchor="end" fill="#000" stroke="#000" stroke-width="0.22">Experiment 7</text><polyline points="367.50,430.20 385.40,406.80 403.30,435.50 421.20,412.20 439.10,408.10 457.00,395.40 474.90,395.40" stroke="#85552a" stroke-width="0.7" fill="none"/><circle cx="367.50" cy="430.20" r="1.25" fill="#85552a"/><circle cx="385.40" cy="406.80" r="1.25" fill="#85552a"/><circle cx="403.30" cy="435.50" r="1.25" fill="#85552a"/><circle cx="421.20" cy="412.20" r="1.25" fill="#85552a"/><circle cx="439.10" cy="408.10" r="1.25" fill="#85552a"/><circle cx="457.00" cy="395.40" r="1.25" fill="#85552a"/><circle cx="474.90" cy="395.40" r="1.25" fill="#85552a"/><polyline points="367.50,435.50 385.40,430.90 403.30,438.70 421.20,423.20 439.10,424.30 457.00,419.90 474.90,411.40" stroke="#0000ff" stroke-width="0.7" fill="none"/><circle cx="367.50" cy="435.50" r="1.25" fill="#0000ff"/><circle cx="385.40" cy="430.90" r="1.25" fill="#0000ff"/><circle cx="403.30" cy="438.70" r="1.25" fill="#0000ff"/><circle cx="421.20" cy="423.20" r="1.25" fill="#0000ff"/><circle cx="439.10" cy="424.30" r="1.25" fill="#0000ff"/><circle cx="457.00" cy="419.90" r="1.25" fill="#0000ff"/><circle cx="474.90" cy="411.40" r="1.25" fill="#0000ff"/><polyline points="367.50,440.90 385.40,440.90 403.30,440.90 421.20,440.90 439.10,440.90 457.00,440.90 474.90,440.90" stroke="#e98a8a" stroke-width="1.4" fill="none"/><circle cx="367.50" cy="440.90" r="1.25" fill="#ff0000"/><circle cx="385.40" cy="440.90" r="1.25" fill="#ff0000"/><circle cx="403.30" cy="440.90" r="1.25" fill="#ff0000"/><circle cx="421.20" cy="440.90" r="1.25" fill="#ff0000"/><circle cx="439.10" cy="440.90" r="1.25" fill="#ff0000"/><circle cx="457.00" cy="440.90" r="1.25" fill="#ff0000"/><circle cx="474.90" cy="440.90" r="1.25" fill="#ff0000"/><polyline points="367.50,428.40 385.40,426.10 403.30,430.90 421.20,428.40 439.10,440.90 457.00,427.60 474.90,427.60" stroke="#00c000" stroke-width="0.7" fill="none"/><circle cx="367.50" cy="428.40" r="1.25" fill="#00c000"/><circle cx="385.40" cy="426.10" r="1.25" fill="#00c000"/><circle cx="403.30" cy="430.90" r="1.25" fill="#00c000"/><circle cx="421.20" cy="428.40" r="1.25" fill="#00c000"/><circle cx="439.10" cy="440.90" r="1.25" fill="#00c000"/><circle cx="457.00" cy="427.60" r="1.25" fill="#00c000"/><circle cx="474.90" cy="427.60" r="1.25" fill="#00c000"/><polyline points="367.50,426.00 385.40,413.40 403.30,426.80 421.20,417.00 439.10,412.90 457.00,413.70 474.90,415.00" stroke="#bb00ff" stroke-width="0.7" fill="none"/><circle cx="367.50" cy="426.00" r="1.25" fill="#bb00ff"/><circle cx="385.40" cy="413.40" r="1.25" fill="#bb00ff"/><circle cx="403.30" cy="426.80" r="1.25" fill="#bb00ff"/><circle cx="421.20" cy="417.00" r="1.25" fill="#bb00ff"/><circle cx="439.10" cy="412.90" r="1.25" fill="#bb00ff"/><circle cx="457.00" cy="413.70" r="1.25" fill="#bb00ff"/><circle cx="474.90" cy="415.00" r="1.25" fill="#bb00ff"/><polyline points="367.50,429.70 385.40,417.00 403.30,433.00 421.20,427.00 439.10,418.30 457.00,417.50 474.90,413.40" stroke="#ff8000" stroke-width="0.7" fill="none"/><circle cx="367.50" cy="429.70" r="1.25" fill="#ff8000"/><circle cx="385.40" cy="417.00" r="1.25" fill="#ff8000"/><circle cx="403.30" cy="433.00" r="1.25" fill="#ff8000"/><circle cx="421.20" cy="427.00" r="1.25" fill="#ff8000"/><circle cx="439.10" cy="418.30" r="1.25" fill="#ff8000"/><circle cx="457.00" cy="417.50" r="1.25" fill="#ff8000"/><circle cx="474.90" cy="413.40" r="1.25" fill="#ff8000"/><polyline points="367.50,440.90 385.40,404.70 403.30,440.70 421.20,428.10 439.10,410.10 457.00,401.10 474.90,399.00" stroke="#000000" stroke-width="0.7" fill="none"/><circle cx="367.50" cy="440.90" r="1.25" fill="#000000"/><circle cx="385.40" cy="404.70" r="1.25" fill="#000000"/><circle cx="403.30" cy="440.70" r="1.25" fill="#000000"/><circle cx="421.20" cy="428.10" r="1.25" fill="#000000"/><circle cx="439.10" cy="410.10" r="1.25" fill="#000000"/><circle cx="457.00" cy="401.10" r="1.25" fill="#000000"/><circle cx="474.90" cy="399.00" r="1.25" fill="#000000"/><path d="M493.9 391.10h4.2" stroke="#000000" stroke-width="0.7"/><circle cx="496.0" cy="391.10" r="1.2" fill="#000000"/><text x="501.7" y="392.90" font-size="5.55" fill="#222">MLP</text><path d="M493.9 397.15h4.2" stroke="#ff8000" stroke-width="0.7"/><circle cx="496.0" cy="397.15" r="1.2" fill="#ff8000"/><text x="501.7" y="398.95" font-size="5.55" fill="#222">GradientBoosting</text><path d="M493.9 403.20h4.2" stroke="#bb00ff" stroke-width="0.7"/><circle cx="496.0" cy="403.20" r="1.2" fill="#bb00ff"/><text x="501.7" y="405.00" font-size="5.55" fill="#222">RandomForest</text><path d="M493.9 409.25h4.2" stroke="#00c000" stroke-width="0.7"/><circle cx="496.0" cy="409.25" r="1.2" fill="#00c000"/><text x="501.7" y="411.05" font-size="5.55" fill="#222">DecisionTree</text><path d="M493.9 415.30h4.2" stroke="#ff0000" stroke-width="0.7"/><circle cx="496.0" cy="415.30" r="1.2" fill="#ff0000"/><text x="501.7" y="417.10" font-size="5.55" fill="#222">LogisticRegression</text><path d="M493.9 421.35h4.2" stroke="#0000ff" stroke-width="0.7"/><circle cx="496.0" cy="421.35" r="1.2" fill="#0000ff"/><text x="501.7" y="423.15" font-size="5.55" fill="#222">KNN</text><path d="M493.9 427.40h4.2" stroke="#85552a" stroke-width="0.7"/><circle cx="496.0" cy="427.40" r="1.2" fill="#85552a"/><text x="501.7" y="429.20" font-size="5.55" fill="#222">SVM</text></g>
<g><text x="421.6" y="484.0" font-size="8" font-weight="bold" text-anchor="middle" fill="#000" stroke="#000" stroke-width="0.18">Dataset 3</text><text transform="translate(344.9,520.0) rotate(-90)" font-size="7.4" text-anchor="middle" textLength="16.0" lengthAdjust="spacingAndGlyphs" fill="#000" stroke="#000" stroke-width="0.2">Score</text><path d="M354.1 491.90H355.5 M354.1 495.11H355.5 M354.1 498.31H355.5 M354.1 501.52H355.5 M354.1 504.72H355.5 M354.1 507.93H355.5 M354.1 511.13H355.5 M354.1 514.34H355.5 M354.1 517.54H355.5 M354.1 520.75H355.5 M354.1 523.96H355.5 M354.1 527.16H355.5 M354.1 530.37H355.5 M354.1 533.57H355.5 M354.1 536.78H355.5 M354.1 539.98H355.5 M354.1 543.19H355.5 M354.1 546.39H355.5 M354.1 549.60H355.5" stroke="#000" stroke-width="0.9" fill="none"/><text x="352.9" y="550.95" font-size="4.6" font-weight="bold" text-anchor="end" fill="#1a1a1a" stroke="#1a1a1a" stroke-width="0.05">0.4</text><text x="352.9" y="541.33" font-size="4.6" font-weight="bold" text-anchor="end" fill="#1a1a1a" stroke="#1a1a1a" stroke-width="0.05">0.5</text><text x="352.9" y="531.72" font-size="4.6" font-weight="bold" text-anchor="end" fill="#1a1a1a" stroke="#1a1a1a" stroke-width="0.05">0.6</text><text x="352.9" y="522.10" font-size="4.6" font-weight="bold" text-anchor="end" fill="#1a1a1a" stroke="#1a1a1a" stroke-width="0.05">0.7</text><text x="352.9" y="512.48" font-size="4.6" font-weight="bold" text-anchor="end" fill="#1a1a1a" stroke="#1a1a1a" stroke-width="0.05">0.8</text><text x="352.9" y="502.87" font-size="4.6" font-weight="bold" text-anchor="end" fill="#1a1a1a" stroke="#1a1a1a" stroke-width="0.05">0.9</text><text x="352.9" y="493.25" font-size="4.6" font-weight="bold" text-anchor="end" fill="#1a1a1a" stroke="#1a1a1a" stroke-width="0.05">1.0</text><path d="M353.2 549.60H355.5 M353.2 539.98H355.5 M353.2 530.37H355.5 M353.2 520.75H355.5 M353.2 511.13H355.5 M353.2 501.52H355.5 M353.2 491.90H355.5" stroke="#111" stroke-width="0.7" fill="none"/><path d="M355.5 549.6H486.9" stroke="#808080" stroke-width="1.2" fill="none"/><path d="M355.5 491.55V549.3" stroke="#1a1a1a" stroke-width="0.85" fill="none"/><path d="M367.50 549.6v2.0 M385.40 549.6v2.0 M403.30 549.6v2.0 M421.20 549.6v2.0 M439.10 549.6v2.0 M457.00 549.6v2.0 M474.90 549.6v2.0" stroke="#222" stroke-width="0.7" fill="none"/><text transform="translate(369.70,557.00) rotate(-45)" font-size="6.8" font-weight="bold" text-anchor="end" fill="#000" stroke="#000" stroke-width="0.22">Experiment 1</text><text transform="translate(387.60,557.00) rotate(-45)" font-size="6.8" font-weight="bold" text-anchor="end" fill="#000" stroke="#000" stroke-width="0.22">Experiment 2</text><text transform="translate(405.50,557.00) rotate(-45)" font-size="6.8" font-weight="bold" text-anchor="end" fill="#000" stroke="#000" stroke-width="0.22">Experiment 3</text><text transform="translate(423.40,557.00) rotate(-45)" font-size="6.8" font-weight="bold" text-anchor="end" fill="#000" stroke="#000" stroke-width="0.22">Experiment 4</text><text transform="translate(441.30,557.00) rotate(-45)" font-size="6.8" font-weight="bold" text-anchor="end" fill="#000" stroke="#000" stroke-width="0.22">Experiment 5</text><text transform="translate(459.20,557.00) rotate(-45)" font-size="6.8" font-weight="bold" text-anchor="end" fill="#000" stroke="#000" stroke-width="0.22">Experiment 6</text><text transform="translate(477.10,557.00) rotate(-45)" font-size="6.8" font-weight="bold" text-anchor="end" fill="#000" stroke="#000" stroke-width="0.22">Experiment 7</text><polyline points="367.50,527.50 385.40,504.50 403.30,524.00 421.20,504.50 439.10,505.00 457.00,498.50 474.90,499.00" stroke="#85552a" stroke-width="0.7" fill="none"/><circle cx="367.50" cy="527.50" r="1.25" fill="#85552a"/><circle cx="385.40" cy="504.50" r="1.25" fill="#85552a"/><circle cx="403.30" cy="524.00" r="1.25" fill="#85552a"/><circle cx="421.20" cy="504.50" r="1.25" fill="#85552a"/><circle cx="439.10" cy="505.00" r="1.25" fill="#85552a"/><circle cx="457.00" cy="498.50" r="1.25" fill="#85552a"/><circle cx="474.90" cy="499.00" r="1.25" fill="#85552a"/><polyline points="367.50,529.90 385.40,513.20 403.30,525.80 421.20,519.80 439.10,516.30 457.00,515.70 474.90,510.00" stroke="#0000ff" stroke-width="0.7" fill="none"/><circle cx="367.50" cy="529.90" r="1.25" fill="#0000ff"/><circle cx="385.40" cy="513.20" r="1.25" fill="#0000ff"/><circle cx="403.30" cy="525.80" r="1.25" fill="#0000ff"/><circle cx="421.20" cy="519.80" r="1.25" fill="#0000ff"/><circle cx="439.10" cy="516.30" r="1.25" fill="#0000ff"/><circle cx="457.00" cy="515.70" r="1.25" fill="#0000ff"/><circle cx="474.90" cy="510.00" r="1.25" fill="#0000ff"/><polyline points="367.50,535.60 385.40,536.00 403.30,536.60 421.20,537.00 439.10,536.00 457.00,534.80 474.90,535.20" stroke="#ff0000" stroke-width="0.7" fill="none"/><circle cx="367.50" cy="535.60" r="1.25" fill="#ff0000"/><circle cx="385.40" cy="536.00" r="1.25" fill="#ff0000"/><circle cx="403.30" cy="536.60" r="1.25" fill="#ff0000"/><circle cx="421.20" cy="537.00" r="1.25" fill="#ff0000"/><circle cx="439.10" cy="536.00" r="1.25" fill="#ff0000"/><circle cx="457.00" cy="534.80" r="1.25" fill="#ff0000"/><circle cx="474.90" cy="535.20" r="1.25" fill="#ff0000"/><polyline points="367.50,527.00 385.40,522.60 403.30,527.00 421.20,525.30 439.10,534.50 457.00,520.90 474.90,522.10" stroke="#00c000" stroke-width="0.7" fill="none"/><circle cx="367.50" cy="527.00" r="1.25" fill="#00c000"/><circle cx="385.40" cy="522.60" r="1.25" fill="#00c000"/><circle cx="403.30" cy="527.00" r="1.25" fill="#00c000"/><circle cx="421.20" cy="525.30" r="1.25" fill="#00c000"/><circle cx="439.10" cy="534.50" r="1.25" fill="#00c000"/><circle cx="457.00" cy="520.90" r="1.25" fill="#00c000"/><circle cx="474.90" cy="522.10" r="1.25" fill="#00c000"/><polyline points="367.50,532.70 385.40,515.20 403.30,528.90 421.20,519.20 439.10,518.80 457.00,511.40 474.90,513.60" stroke="#bb00ff" stroke-width="0.7" fill="none"/><circle cx="367.50" cy="532.70" r="1.25" fill="#bb00ff"/><circle cx="385.40" cy="515.20" r="1.25" fill="#bb00ff"/><circle cx="403.30" cy="528.90" r="1.25" fill="#bb00ff"/><circle cx="421.20" cy="519.20" r="1.25" fill="#bb00ff"/><circle cx="439.10" cy="518.80" r="1.25" fill="#bb00ff"/><circle cx="457.00" cy="511.40" r="1.25" fill="#bb00ff"/><circle cx="474.90" cy="513.60" r="1.25" fill="#bb00ff"/><polyline points="367.50,523.90 385.40,510.60 403.30,523.40 421.20,517.30 439.10,510.00 457.00,508.60 474.90,508.10" stroke="#ff8000" stroke-width="0.7" fill="none"/><circle cx="367.50" cy="523.90" r="1.25" fill="#ff8000"/><circle cx="385.40" cy="510.60" r="1.25" fill="#ff8000"/><circle cx="403.30" cy="523.40" r="1.25" fill="#ff8000"/><circle cx="421.20" cy="517.30" r="1.25" fill="#ff8000"/><circle cx="439.10" cy="510.00" r="1.25" fill="#ff8000"/><circle cx="457.00" cy="508.60" r="1.25" fill="#ff8000"/><circle cx="474.90" cy="508.10" r="1.25" fill="#ff8000"/><polyline points="367.50,538.40 385.40,500.10 403.30,538.10 421.20,511.10 439.10,499.10 457.00,498.00 474.90,498.80" stroke="#000000" stroke-width="0.7" fill="none"/><circle cx="367.50" cy="538.40" r="1.25" fill="#000000"/><circle cx="385.40" cy="500.10" r="1.25" fill="#000000"/><circle cx="403.30" cy="538.10" r="1.25" fill="#000000"/><circle cx="421.20" cy="511.10" r="1.25" fill="#000000"/><circle cx="439.10" cy="499.10" r="1.25" fill="#000000"/><circle cx="457.00" cy="498.00" r="1.25" fill="#000000"/><circle cx="474.90" cy="498.80" r="1.25" fill="#000000"/><path d="M493.9 500.45h4.2" stroke="#000000" stroke-width="0.7"/><circle cx="496.0" cy="500.45" r="1.2" fill="#000000"/><text x="501.7" y="502.25" font-size="5.55" fill="#222">MLP</text><path d="M493.9 506.50h4.2" stroke="#ff8000" stroke-width="0.7"/><circle cx="496.0" cy="506.50" r="1.2" fill="#ff8000"/><text x="501.7" y="508.30" font-size="5.55" fill="#222">GradientBoosting</text><path d="M493.9 512.55h4.2" stroke="#bb00ff" stroke-width="0.7"/><circle cx="496.0" cy="512.55" r="1.2" fill="#bb00ff"/><text x="501.7" y="514.35" font-size="5.55" fill="#222">RandomForest</text><path d="M493.9 518.60h4.2" stroke="#00c000" stroke-width="0.7"/><circle cx="496.0" cy="518.60" r="1.2" fill="#00c000"/><text x="501.7" y="520.40" font-size="5.55" fill="#222">DecisionTree</text><path d="M493.9 524.65h4.2" stroke="#ff0000" stroke-width="0.7"/><circle cx="496.0" cy="524.65" r="1.2" fill="#ff0000"/><text x="501.7" y="526.45" font-size="5.55" fill="#222">LogisticRegression</text><path d="M493.9 530.70h4.2" stroke="#0000ff" stroke-width="0.7"/><circle cx="496.0" cy="530.70" r="1.2" fill="#0000ff"/><text x="501.7" y="532.50" font-size="5.55" fill="#222">KNN</text><path d="M493.9 536.75h4.2" stroke="#85552a" stroke-width="0.7"/><circle cx="496.0" cy="536.75" r="1.2" fill="#85552a"/><text x="501.7" y="538.55" font-size="5.55" fill="#222">SVM</text></g>
</svg></body></html>
